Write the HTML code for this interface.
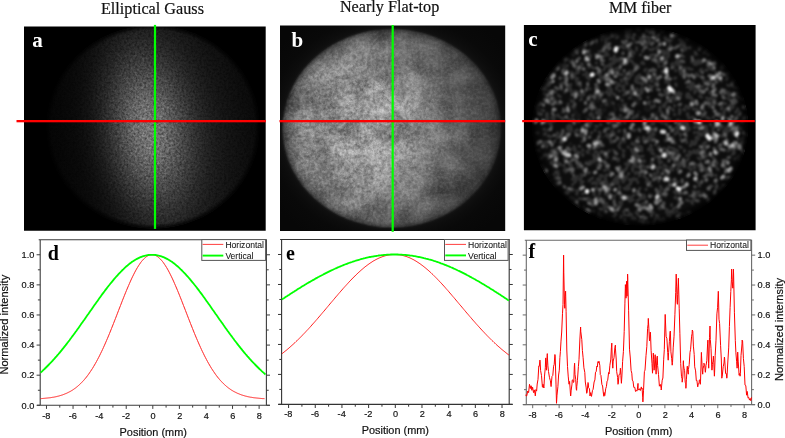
<!DOCTYPE html>
<html lang="en"><head><meta charset="utf-8"><title>Beam profiles</title>
<style>html,body{margin:0;padding:0;background:#fff;}body{width:785px;height:438px;overflow:hidden;}svg{display:block;}.t{font-family:"Liberation Serif", "Times New Roman", serif;font-size:17px;fill:#111;stroke:#111;stroke-width:0.2px;}.lab{font-family:"Liberation Serif", "Times New Roman", serif;font-weight:bold;font-size:21px;}.tk{font-family:"Liberation Sans", Arial, sans-serif;font-size:9.9px;fill:#111;stroke:#111;stroke-width:0.18px;}.ax{font-family:"Liberation Sans", Arial, sans-serif;font-size:11px;fill:#111;stroke:#111;stroke-width:0.2px;}.lg{font-family:"Liberation Sans", Arial, sans-serif;font-size:8.8px;fill:#111;stroke:#111;stroke-width:0.06px;}</style></head><body>
<svg width="785" height="438" viewBox="0 0 785 438">
<defs>
<radialGradient id="ga" gradientUnits="userSpaceOnUse" cx="0" cy="0" r="170" gradientTransform="translate(168 133) rotate(-8) scale(1 1.9)"><stop offset="0.0000" stop-color="rgb(40,40,40)"/><stop offset="0.0417" stop-color="rgb(40,40,40)"/><stop offset="0.0833" stop-color="rgb(39,39,39)"/><stop offset="0.1250" stop-color="rgb(37,37,37)"/><stop offset="0.1667" stop-color="rgb(35,35,35)"/><stop offset="0.2083" stop-color="rgb(32,32,32)"/><stop offset="0.2500" stop-color="rgb(29,29,29)"/><stop offset="0.2917" stop-color="rgb(26,26,26)"/><stop offset="0.3333" stop-color="rgb(23,23,23)"/><stop offset="0.3750" stop-color="rgb(20,20,20)"/><stop offset="0.4167" stop-color="rgb(17,17,17)"/><stop offset="0.4583" stop-color="rgb(14,14,14)"/><stop offset="0.5000" stop-color="rgb(12,12,12)"/><stop offset="0.5417" stop-color="rgb(10,10,10)"/><stop offset="0.5833" stop-color="rgb(9,9,9)"/><stop offset="0.6250" stop-color="rgb(7,7,7)"/><stop offset="0.6667" stop-color="rgb(6,6,6)"/><stop offset="0.7083" stop-color="rgb(5,5,5)"/><stop offset="0.7500" stop-color="rgb(5,5,5)"/><stop offset="0.7917" stop-color="rgb(4,4,4)"/><stop offset="0.8333" stop-color="rgb(4,4,4)"/><stop offset="0.8750" stop-color="rgb(4,4,4)"/><stop offset="0.9167" stop-color="rgb(4,4,4)"/><stop offset="0.9583" stop-color="rgb(4,4,4)"/><stop offset="1.0000" stop-color="rgb(3,3,3)"/></radialGradient>
<radialGradient id="ga2" gradientUnits="userSpaceOnUse" cx="0" cy="0" r="80" gradientTransform="translate(149 131) rotate(-8) scale(1 1.95)"><stop offset="0.0000" stop-color="#fff" stop-opacity="0.4144"/><stop offset="0.0417" stop-color="#fff" stop-opacity="0.4110"/><stop offset="0.0833" stop-color="#fff" stop-opacity="0.4010"/><stop offset="0.1250" stop-color="#fff" stop-opacity="0.3849"/><stop offset="0.1667" stop-color="#fff" stop-opacity="0.3633"/><stop offset="0.2083" stop-color="#fff" stop-opacity="0.3374"/><stop offset="0.2500" stop-color="#fff" stop-opacity="0.3083"/><stop offset="0.2917" stop-color="#fff" stop-opacity="0.2770"/><stop offset="0.3333" stop-color="#fff" stop-opacity="0.2449"/><stop offset="0.3750" stop-color="#fff" stop-opacity="0.2130"/><stop offset="0.4167" stop-color="#fff" stop-opacity="0.1822"/><stop offset="0.4583" stop-color="#fff" stop-opacity="0.1533"/><stop offset="0.5000" stop-color="#fff" stop-opacity="0.1269"/><stop offset="0.5417" stop-color="#fff" stop-opacity="0.1033"/><stop offset="0.5833" stop-color="#fff" stop-opacity="0.0828"/><stop offset="0.6250" stop-color="#fff" stop-opacity="0.0652"/><stop offset="0.6667" stop-color="#fff" stop-opacity="0.0505"/><stop offset="0.7083" stop-color="#fff" stop-opacity="0.0385"/><stop offset="0.7500" stop-color="#fff" stop-opacity="0.0289"/><stop offset="0.7917" stop-color="#fff" stop-opacity="0.0213"/><stop offset="0.8333" stop-color="#fff" stop-opacity="0.0155"/><stop offset="0.8750" stop-color="#fff" stop-opacity="0.0111"/><stop offset="0.9167" stop-color="#fff" stop-opacity="0.0078"/><stop offset="0.9583" stop-color="#fff" stop-opacity="0.0054"/><stop offset="1.0000" stop-color="#fff" stop-opacity="0.0036"/></radialGradient>
<radialGradient id="apa" gradientUnits="userSpaceOnUse" cx="0" cy="0" r="1" gradientTransform="translate(153 127) scale(107 102)"><stop offset="0" stop-color="#000" stop-opacity="0"/><stop offset="0.95" stop-color="#000" stop-opacity="0"/><stop offset="1" stop-color="#000" stop-opacity="1"/></radialGradient>
<radialGradient id="gb" gradientUnits="userSpaceOnUse" cx="0" cy="0" r="200" gradientTransform="translate(365 128) scale(1 1.12)"><stop offset="0.0000" stop-color="rgb(206,206,206)"/><stop offset="0.0500" stop-color="rgb(204,204,204)"/><stop offset="0.1000" stop-color="rgb(199,199,199)"/><stop offset="0.1500" stop-color="rgb(191,191,191)"/><stop offset="0.2000" stop-color="rgb(182,182,182)"/><stop offset="0.2500" stop-color="rgb(170,170,170)"/><stop offset="0.3000" stop-color="rgb(158,158,158)"/><stop offset="0.3500" stop-color="rgb(144,144,144)"/><stop offset="0.4000" stop-color="rgb(130,130,130)"/><stop offset="0.4500" stop-color="rgb(116,116,116)"/><stop offset="0.5000" stop-color="rgb(104,104,104)"/><stop offset="0.5500" stop-color="rgb(94,94,94)"/><stop offset="0.6000" stop-color="rgb(84,84,84)"/><stop offset="0.6500" stop-color="rgb(74,74,74)"/><stop offset="0.7000" stop-color="rgb(67,67,67)"/><stop offset="0.7500" stop-color="rgb(61,61,61)"/><stop offset="0.8000" stop-color="rgb(55,55,55)"/><stop offset="0.8500" stop-color="rgb(54,54,54)"/><stop offset="0.9000" stop-color="rgb(53,53,53)"/><stop offset="0.9500" stop-color="rgb(52,52,52)"/><stop offset="1.0000" stop-color="rgb(50,50,50)"/></radialGradient>
<radialGradient id="apb" gradientUnits="userSpaceOnUse" cx="0" cy="0" r="1.3" gradientTransform="translate(391.8 128.3) scale(111 101)"><stop offset="0.0000" stop-color="rgb(12,12,12)" stop-opacity="0.000"/><stop offset="0.6615" stop-color="rgb(12,12,12)" stop-opacity="0.000"/><stop offset="0.7231" stop-color="rgb(12,12,12)" stop-opacity="0.180"/><stop offset="0.7477" stop-color="rgb(13,13,13)" stop-opacity="0.450"/><stop offset="0.7638" stop-color="rgb(15,15,15)" stop-opacity="0.930"/><stop offset="0.7754" stop-color="rgb(15,15,15)" stop-opacity="1.000"/><stop offset="0.8077" stop-color="rgb(12,12,12)" stop-opacity="1.000"/><stop offset="0.8615" stop-color="rgb(9,9,9)" stop-opacity="1.000"/><stop offset="1.0000" stop-color="rgb(7,7,7)" stop-opacity="1.000"/></radialGradient>
<radialGradient id="apc" gradientUnits="userSpaceOnUse" cx="0" cy="0" r="1" gradientTransform="translate(640 126.5) scale(109 100)"><stop offset="0" stop-color="#000" stop-opacity="0"/><stop offset="0.9" stop-color="#000" stop-opacity="0"/><stop offset="1" stop-color="#000" stop-opacity="1"/></radialGradient>
<filter id="nz" x="0" y="0" width="100%" height="100%" color-interpolation-filters="sRGB"><feTurbulence type="fractalNoise" baseFrequency="0.45" numOctaves="2" seed="3" result="t"/><feColorMatrix in="t" type="matrix" values="0 0 0 0 0  0 0 0 0 0  0 0 0 0 0  1.1 0 0 0 -0.4"/></filter>
<filter id="nzw" x="0" y="0" width="100%" height="100%" color-interpolation-filters="sRGB"><feTurbulence type="fractalNoise" baseFrequency="0.34" numOctaves="2" seed="11" result="t"/><feColorMatrix in="t" type="matrix" values="0 0 0 0 1  0 0 0 0 1  0 0 0 0 1  0.55 0 0 0 -0.2"/></filter>
<filter id="spk" x="0" y="0" width="100%" height="100%" color-interpolation-filters="sRGB"><feTurbulence type="fractalNoise" baseFrequency="0.4" numOctaves="2" seed="21" result="t"/><feColorMatrix in="t" type="matrix" values="0 0 0 0 1  0 0 0 0 1  0 0 0 0 1  4 0 0 0 -2" result="m"/><feComposite in="SourceGraphic" in2="m" operator="in"/></filter>
<filter id="cloud" x="0" y="0" width="100%" height="100%" color-interpolation-filters="sRGB"><feTurbulence type="fractalNoise" baseFrequency="0.035" numOctaves="2" seed="8" result="t"/><feColorMatrix in="t" type="matrix" values="0 0 0 0 0  0 0 0 0 0  0 0 0 0 0  0.9 0 0 0 -0.33"/></filter>
<radialGradient id="mkb" gradientUnits="userSpaceOnUse" cx="355" cy="130" r="150"><stop offset="0" stop-color="#fff"/><stop offset="0.35" stop-color="#e0e0e0"/><stop offset="0.7" stop-color="#707070"/><stop offset="1" stop-color="#404040"/></radialGradient>
<mask id="mb" maskUnits="userSpaceOnUse" x="280" y="25" width="226" height="207"><rect x="280" y="25" width="226" height="207" fill="url(#mkb)"/></mask>
<filter id="mot" x="0" y="0" width="100%" height="100%" color-interpolation-filters="sRGB"><feTurbulence type="fractalNoise" baseFrequency="0.2" numOctaves="3" seed="5" result="t"/><feColorMatrix in="t" type="matrix" values="0 0 0 0 0  0 0 0 0 0  0 0 0 0 0  0.65 0 0 0 -0.21"/></filter>
<filter id="blur1" x="-5%" y="-5%" width="110%" height="110%"><feGaussianBlur stdDeviation="1.25"/></filter>
<clipPath id="ca"><rect x="24" y="26" width="242" height="205"/></clipPath>
<clipPath id="cb"><rect x="280" y="25" width="226" height="206"/></clipPath>
<clipPath id="cc"><rect x="523" y="24" width="233" height="207"/></clipPath>
<clipPath id="ea"><ellipse cx="153" cy="127" rx="106.5" ry="101.5"/></clipPath>
<clipPath id="eb"><ellipse cx="393.5" cy="126" rx="112" ry="103"/></clipPath>
<clipPath id="ec"><ellipse cx="640" cy="126.5" rx="108" ry="99"/></clipPath>
</defs>
<text class="t" x="100.9" y="13.7" textLength="103.1" lengthAdjust="spacingAndGlyphs">Elliptical Gauss</text>
<text class="t" x="339.9" y="11.9" textLength="99.4" lengthAdjust="spacingAndGlyphs">Nearly Flat-top</text>
<text class="t" x="608.9" y="12.6" textLength="62.4" lengthAdjust="spacingAndGlyphs">MM fiber</text>
<g clip-path="url(#ca)">
<rect x="24" y="26" width="242" height="205" fill="#000"/>
<g clip-path="url(#ea)">
<rect x="24" y="26" width="242" height="205" fill="url(#ga)"/>
<rect x="24" y="26" width="242" height="205" fill="url(#ga2)"/>
<rect x="24" y="26" width="242" height="205" filter="url(#nz)" opacity="0.8"/>
<rect x="24" y="26" width="242" height="205" fill="url(#ga2)" filter="url(#spk)" opacity="0.5"/>
<rect x="24" y="26" width="242" height="205" fill="url(#apa)"/>
</g></g>
<g clip-path="url(#cb)">
<rect x="280" y="25" width="226" height="207" fill="url(#gb)"/>
<rect x="280" y="25" width="226" height="207" filter="url(#cloud)"/>
<g mask="url(#mb)">
<rect x="280" y="25" width="226" height="207" filter="url(#mot)"/>
<rect x="280" y="25" width="226" height="207" filter="url(#nzw)"/>
<rect x="280" y="25" width="226" height="207" filter="url(#nz)" opacity="0.35"/>
</g>
<rect x="280" y="25" width="226" height="207" fill="url(#apb)"/>
</g>
<g clip-path="url(#cc)">
<rect x="523" y="24" width="233" height="207" fill="#000"/>
<g clip-path="url(#ec)">
<ellipse cx="640" cy="126.5" rx="108" ry="99" fill="#0d0d0d"/>
<g filter="url(#blur1)">
<path d="M608.4 99.0l-0.2 0.3M592.0 121.7l0.2 2.9M615.5 109.4l-0.5 0.7M598.2 97.3l0.8 1.3M610.8 96.3l0.6 0.8M632.4 98.2l-0.5 0.5M568.6 112.6l-1.6 2.5M650.4 107.4l-0.8 2.7M637.5 117.4l-2.1 1.0M570.6 143.3l-0.6 0.8M638.5 98.8l-1.4 1.3M578.6 115.1l-0.4 0.7M592.0 101.7l1.2 1.3M620.8 96.9l0.3 0.5M589.3 153.0l1.8 0.6M653.1 113.5l-1.0 0.6M638.7 102.3l-0.7 1.1M598.4 154.5l0.3 1.3M611.2 101.2l-0.4 1.6M620.1 108.1l0.5 2.0M618.9 104.9l-0.6 0.1M613.7 111.5l0.1 1.6M650.9 108.8l-1.5 0.3M603.3 136.5l-1.0 0.8M593.8 139.9l0.0 1.4M668.9 99.8l-0.4 0.2M607.2 154.7l-0.1 0.1M646.5 106.1l-0.2 0.2M572.8 109.1l-0.0 0.9M649.9 119.4l-1.0 0.8M594.8 104.6l0.2 2.2M588.3 161.8l0.3 2.6M574.1 98.3l0.3 0.9M661.7 104.3l0.8 1.3M656.6 113.1l-0.7 2.4M574.1 110.7l2.2 2.0M595.7 146.6l-0.9 1.2M638.1 113.5l-0.9 1.3M603.3 152.3l-2.1 0.7M575.0 151.9l2.5 0.2M577.5 151.1l0.4 0.2M614.1 106.6l-0.1 0.1M580.7 146.4l1.3 1.3M609.7 113.9l2.8 0.9M596.1 163.9l0.0 0.0M595.3 113.0l0.4 0.1M597.4 99.9l1.0 1.7M572.7 105.1l-0.5 1.6M579.5 119.1l-0.4 1.4M611.7 142.5l-0.7 0.9M575.5 113.7l-1.1 0.9M606.0 117.6l-0.2 0.0M605.3 109.4l-0.8 0.2M617.7 118.2l-0.9 2.8M638.9 111.7l0.6 0.8M578.7 161.9l-0.8 0.2M668.6 110.3l-0.9 0.9M609.3 105.3l-0.4 0.3M627.7 109.7l2.2 1.2M612.2 101.5l-2.5 1.0M614.1 154.7l1.7 1.2M586.6 117.5l0.0 0.0M658.5 99.2l3.0 0.2M596.9 163.9l2.8 0.0M608.6 128.7l-2.8 0.9M613.0 149.8l-2.4 0.3M604.1 130.8l1.2 1.1M579.6 115.1l-2.0 1.9M654.4 101.0l0.3 0.5M602.6 109.7l1.3 1.4M619.5 107.4l0.6 2.6M604.3 164.3l1.1 2.1M587.7 109.0l-1.0 0.8M588.9 148.9l1.3 1.0M647.6 103.2l-0.3 0.1M611.9 160.0l0.3 0.1M596.1 100.0l-1.2 0.7M654.7 103.7l0.1 0.6M605.9 152.9l-2.3 1.7M593.3 106.4l-2.2 0.7M664.0 107.3l0.6 0.5M594.6 155.7l-0.7 1.9M601.0 109.0l-1.5 0.1M577.4 120.9l0.3 0.3M586.0 162.0l-0.3 1.6M645.1 108.9l2.4 1.7M590.8 112.5l-1.7 1.3M603.4 104.7l-2.7 0.9M561.8 112.5l-0.4 0.1M635.3 99.9l-0.2 0.3M659.0 98.7l0.1 0.4M571.0 98.8l-1.1 0.8M671.8 101.3l1.9 1.8" stroke="#fff" stroke-opacity="0.05" stroke-width="3.0" stroke-linecap="round" fill="none"/>
<path d="M634.4 158.2l0.0 0.0M612.4 81.1l-1.0 1.5M681.1 93.7l-0.0 0.0M642.0 44.3l-0.3 0.1M567.7 190.0l0.5 1.7M581.7 99.0l-1.2 0.8M699.8 46.6l1.8 1.1M610.1 64.0l-0.0 0.0M589.0 180.9l0.0 0.0M538.8 150.4l-1.5 0.0M703.2 193.2l1.2 1.0M635.0 152.0l-2.6 0.4M565.7 84.6l1.8 2.2M643.3 165.9l0.7 0.5M586.1 163.3l2.4 1.1M622.5 74.5l-1.7 0.1M667.4 210.9l-0.9 0.9M659.5 207.1l-0.3 1.0M611.1 173.9l2.1 0.1M647.7 184.6l1.0 0.3M598.7 213.7l-0.2 1.9M557.4 133.4l0.2 0.7M619.5 91.0l0.2 0.1M598.7 165.9l-1.3 2.5M637.3 115.2l-0.5 0.9M582.4 91.8l1.1 0.0M591.5 66.5l2.1 1.8M715.4 76.2l-2.2 1.1M580.1 134.1l0.7 1.9M651.9 162.8l-0.6 0.7M640.0 98.5l0.6 0.3M600.6 51.3l-1.6 0.9M702.6 108.9l0.8 0.9M613.5 103.3l-0.4 0.3M575.1 77.2l-0.0 0.2M710.7 98.1l0.2 0.3M567.6 58.8l0.3 0.5M570.5 88.7l-0.1 0.3M680.7 133.8l-0.2 1.9M706.2 127.6l0.2 1.9M733.5 124.8l-1.6 2.4M680.1 111.8l-0.8 2.1M554.9 163.7l-2.9 0.3M609.7 85.9l-0.6 1.9M636.1 172.9l-0.7 0.7M614.0 199.3l0.0 0.6M667.4 133.7l0.9 0.8M664.7 51.5l-2.2 0.3M568.0 136.2l-0.3 1.1M631.2 60.8l0.8 0.6M674.7 105.8l-0.1 0.2M678.2 60.5l1.6 2.0M581.3 65.4l-0.7 1.6M635.3 218.8l-1.2 0.2M645.7 172.0l-0.9 1.6M687.2 97.4l2.7 0.2M703.8 104.4l-0.4 0.1M613.5 124.5l-0.4 0.1M580.2 198.9l-1.5 0.3M610.8 63.9l-1.2 1.1M704.1 78.4l-0.3 0.1M665.8 63.3l-1.7 0.9M625.9 30.3l0.5 1.1M644.8 138.9l-1.6 0.5M705.1 132.1l-0.7 0.0M619.6 186.7l-0.2 2.3M679.0 200.7l0.4 0.8M569.0 192.2l-0.7 0.0M618.6 158.8l-0.5 2.1M695.3 191.6l1.4 1.8M550.7 124.5l0.9 1.4M648.5 132.5l-0.9 0.3M721.8 89.3l0.9 0.2M735.0 158.9l0.3 0.2M701.4 113.9l0.1 0.1M550.7 122.3l-1.5 0.3M678.2 120.0l-1.8 2.4M716.0 162.3l1.2 0.7M667.3 91.9l-0.8 1.3M625.5 104.7l-2.7 0.3M663.9 165.4l2.6 1.3M557.7 66.2l-0.5 0.2M547.6 79.4l1.5 1.6M723.3 113.6l0.8 2.7M553.3 81.0l-0.7 0.3M679.5 199.5l0.7 2.0M628.0 164.2l-0.8 0.5M616.3 88.9l0.3 0.2M608.2 88.3l1.2 0.4M566.5 110.8l2.5 0.6M657.6 156.3l-1.6 0.8M700.0 92.3l1.1 1.0M666.4 60.3l-1.2 0.5M579.2 146.0l0.1 0.5M680.2 95.3l0.0 2.0M703.5 77.6l-0.3 1.3M667.9 117.8l-0.0 0.0M670.6 167.7l-0.2 1.6M561.9 65.4l2.7 0.5M557.2 103.2l1.3 0.1M553.0 160.6l1.1 1.3M636.6 49.9l0.0 0.0M582.8 126.8l-0.2 0.1M643.2 156.1l0.0 0.0M628.2 147.0l-0.2 0.2M695.9 61.2l-1.0 2.4M665.2 61.8l0.7 1.6M552.9 117.4l-1.1 0.6M622.2 179.4l0.8 0.3M617.0 86.4l-0.4 0.0M682.1 71.9l-1.6 1.7M658.3 50.7l1.6 0.6M635.7 161.9l0.7 1.1M656.9 176.8l-0.1 0.3M630.7 183.5l-1.2 1.3M624.0 170.5l-0.2 0.9M631.6 88.0l-0.6 1.7M610.6 58.5l-0.4 0.9M724.2 111.8l0.2 0.2M578.4 47.4l-0.8 1.5M624.6 135.0l1.4 0.6M623.2 154.3l0.5 0.5M652.9 86.4l-2.0 0.9M619.4 191.8l-2.2 1.8M556.7 179.0l0.3 1.0M549.6 129.6l-1.9 0.6M721.7 188.2l-1.8 1.0M623.6 140.5l0.7 1.3M630.5 30.0l-1.5 0.4M690.7 103.0l-0.2 2.4M610.2 94.1l-1.5 0.9M653.0 37.7l1.4 1.2M564.7 91.8l-0.1 0.4M620.8 169.5l-1.2 2.4M668.4 186.9l0.4 1.6M615.8 126.2l-2.6 1.5M685.8 132.8l-1.4 1.2M677.2 98.1l-1.8 1.9M594.3 159.0l0.4 0.8M590.7 95.6l-0.3 1.5M605.5 193.9l1.3 0.3M600.0 175.6l2.6 0.5M629.3 197.4l-2.1 0.7M541.8 87.8l1.8 1.6M587.4 99.3l-0.1 0.1M743.6 137.7l-0.1 2.0M558.5 148.0l-1.2 0.6M589.7 105.1l0.1 2.1M667.4 138.8l-1.3 0.8M665.5 195.4l-0.2 0.6M567.9 104.1l0.4 0.2M596.1 197.0l0.1 0.8M642.1 156.3l-0.0 0.0M551.5 73.4l-2.6 0.3M684.1 214.5l1.5 1.6M614.6 179.3l2.4 0.4M545.4 133.5l-0.9 0.8M586.6 58.4l-1.5 1.4M643.6 137.1l1.2 1.9M588.4 119.6l0.8 0.3M664.8 154.4l0.7 0.4M712.8 131.4l0.2 1.3M734.5 142.1l1.5 0.7M603.4 77.8l-0.4 1.9M677.3 93.7l-2.3 0.7M701.8 166.8l1.6 0.7M679.6 57.0l-2.9 0.7M685.1 68.0l-0.8 0.4M646.5 189.2l-0.7 0.2M736.2 111.6l-0.5 0.6M591.8 113.6l-1.7 2.0M675.5 35.8l-2.2 2.0M654.0 77.4l0.2 0.6M665.8 39.8l2.8 0.7M551.7 94.4l-1.5 2.4M611.3 70.4l0.9 0.8M607.8 66.0l-2.8 0.6M695.7 196.3l-1.5 1.6M728.9 99.3l1.4 1.0M696.6 62.3l-0.5 2.4M582.3 134.5l-0.4 0.6M667.9 114.8l-0.9 1.1M697.3 181.8l0.6 0.5M563.5 68.8l2.5 1.4M695.4 127.3l-1.4 0.2M724.1 141.5l-0.8 0.7M632.9 94.1l-1.3 0.4M643.8 128.0l1.9 0.9M574.8 91.2l2.7 0.7M688.0 212.3l-0.4 1.2M567.7 72.3l-0.7 0.4M679.4 146.4l2.0 1.1M662.4 207.4l-2.3 1.1M677.1 211.7l-0.4 0.2M593.3 116.3l0.3 2.7M671.3 211.5l0.9 0.1M613.8 60.8l0.3 2.6M723.2 177.7l-0.6 0.1M637.4 77.8l-1.4 0.1M688.9 68.1l-0.1 1.1M615.9 72.2l0.0 0.4M591.3 102.3l1.4 0.8M681.3 65.9l-0.7 0.5M564.2 165.3l-0.5 0.4M574.2 74.0l-1.2 1.5M610.8 67.3l1.0 0.8M587.8 121.4l2.8 1.2M640.7 196.7l0.7 1.6M588.5 60.4l0.8 0.1M544.5 144.7l-0.2 1.2M702.1 146.2l-0.5 0.6M544.2 142.2l0.1 0.7M699.2 191.8l-2.2 0.8M600.9 92.9l2.2 0.2M622.7 46.6l1.3 1.5M586.8 75.1l0.7 2.2M721.4 127.3l0.1 0.2M608.5 168.2l-1.0 1.2M573.2 148.4l1.7 1.9M729.3 148.4l-1.0 2.5M655.1 83.2l1.0 1.5M690.6 169.8l0.2 0.5M608.3 196.0l1.8 1.3M686.6 38.8l1.3 0.7M541.3 158.2l-0.7 0.3M562.5 142.4l-1.9 0.3M718.9 147.4l1.1 1.1M576.6 159.5l-1.7 0.4M690.1 47.3l-0.6 0.5M680.5 165.0l0.2 0.2M558.3 95.3l2.1 1.6M572.9 198.3l-0.6 1.5M570.9 84.5l-1.2 2.0M554.8 76.8l-0.3 0.1M646.5 36.9l-1.1 0.7M587.6 63.8l-0.0 0.1M629.6 55.2l2.7 1.3M686.1 47.5l-0.5 2.2M628.8 173.4l-0.4 0.7M560.6 164.2l-0.2 0.6M576.4 68.7l0.3 0.9M656.1 62.1l2.0 1.4M740.1 155.7l-2.3 1.4M600.8 189.9l-0.4 1.0M662.8 113.4l-0.2 0.7M628.8 197.0l2.8 0.8M596.7 41.4l-0.4 0.9M670.3 180.8l-1.6 0.3M584.0 93.4l-0.7 1.6M704.2 103.6l-0.1 0.5M600.8 94.6l-0.7 2.7M691.1 82.6l-0.7 0.3M567.4 65.5l-2.6 0.2M720.7 79.9l0.5 0.9M601.8 209.5l-0.6 0.4M634.0 164.2l1.4 1.3M623.6 155.7l-0.4 0.4M672.6 66.5l1.8 0.3M676.6 132.0l1.1 0.6M577.3 176.3l-0.9 2.6M589.6 172.7l-1.5 0.1M648.5 208.2l-1.0 1.8M591.8 132.6l-0.6 0.5M738.9 132.9l-2.5 0.4M583.9 45.8l-2.1 0.3M717.0 153.1l0.0 0.1M695.5 53.2l1.0 1.0M667.6 116.2l-2.4 0.0M565.4 159.2l0.2 0.3M649.2 103.6l-0.1 0.2M658.4 195.7l-0.3 0.4M599.1 91.9l-1.5 0.7M580.5 166.9l-2.7 0.3M679.6 162.8l1.2 2.1M689.4 167.0l-1.1 0.7M699.7 168.1l0.7 2.8M577.9 130.1l-2.0 0.3M600.8 59.6l0.4 0.9M614.1 150.9l0.3 0.1M692.2 117.2l2.2 1.3M689.3 151.6l1.5 0.9M554.2 149.9l-1.4 1.4M653.4 34.6l1.2 0.4M671.8 109.1l1.8 1.0M593.8 106.8l-0.0 0.6M568.8 188.3l-1.7 1.4M570.0 125.2l-2.4 1.5M630.2 49.7l0.6 1.8M653.3 121.9l-1.7 2.3M654.8 101.5l-1.0 0.1M663.9 194.2l0.6 0.9M733.9 104.0l-1.8 1.4M693.6 165.1l0.9 0.9M601.9 151.3l-1.0 0.5M554.1 120.2l-0.4 0.9M551.0 162.5l0.5 0.8M567.7 118.5l0.0 0.0M598.5 154.5l-1.6 2.4M684.3 42.8l-0.5 1.3M620.6 172.9l-0.1 0.8M697.7 151.6l-2.5 1.1M571.5 164.9l-0.6 1.3M648.7 42.0l-2.1 1.5M607.0 206.9l-2.1 1.3M623.5 156.7l-0.0 0.0M694.6 61.2l-2.8 0.6M666.5 209.5l0.6 0.1M605.1 37.0l0.5 2.9M715.5 139.3l0.7 0.1M690.3 168.2l-0.1 0.3M713.7 86.7l0.8 1.6M609.6 87.7l1.9 2.1M701.6 151.4l0.3 0.0M548.6 100.8l-0.9 0.1M588.1 124.7l-1.7 0.1M547.4 113.5l-1.0 0.6M716.8 113.9l0.0 0.6M577.8 78.7l-1.6 1.8M729.9 109.9l-0.7 1.2M613.6 216.4l0.8 0.2M643.1 79.2l0.5 2.5M579.2 66.5l-1.2 1.6M574.8 49.6l0.9 2.7M733.0 94.8l1.3 0.8M627.0 167.4l-1.7 2.4M601.0 37.0l0.7 2.9M649.6 79.1l1.4 2.3M583.0 175.6l-2.2 1.8M593.7 148.1l-0.3 0.2M589.5 125.4l-0.1 1.3M669.6 211.5l0.5 0.4M632.3 168.3l0.6 2.7M606.6 181.7l-1.6 0.4M705.6 141.9l0.4 0.4M633.8 91.6l-0.1 0.0M680.7 170.6l-0.0 0.1M572.5 60.2l-2.3 1.4M608.8 93.0l1.7 0.6M718.8 145.3l-0.1 0.3M595.1 182.9l-2.9 0.4M559.4 63.7l-1.3 0.6M580.7 134.0l1.2 2.1M678.2 205.7l-2.3 1.8M614.3 56.1l0.2 0.2M661.5 188.2l-0.8 0.9M633.4 63.7l2.1 1.1M649.8 136.0l0.2 0.5M592.7 103.5l-0.2 1.2M602.9 152.3l1.9 0.1M670.0 119.4l-1.1 1.0M581.1 174.6l0.5 0.0M613.7 181.3l1.8 2.1M606.3 54.6l1.9 0.2M588.5 201.3l1.6 2.2M677.0 216.0l2.1 0.9M554.9 178.3l-0.5 0.3M721.9 126.0l0.4 0.5M727.0 73.9l-0.7 1.6M623.7 177.1l0.0 0.1M728.1 73.1l-1.4 1.9M605.6 177.9l-0.4 1.9M548.3 175.6l-1.0 1.5M690.8 144.8l-0.6 1.1M691.8 141.6l1.0 2.7M607.0 77.6l-0.6 0.8M616.2 51.1l-0.7 1.0M671.6 204.6l-0.1 0.8M742.0 121.5l1.1 0.1M623.9 180.6l-0.7 1.5M682.3 40.7l-1.3 2.0M584.5 125.7l2.0 0.7M577.1 192.6l-0.3 1.5M615.5 189.1l-0.0 0.0M660.2 120.5l-1.4 0.6M621.6 100.1l1.0 0.7M726.1 131.0l-2.6 0.1M742.3 145.6l-1.0 0.8M648.7 37.1l0.4 1.7M687.9 113.7l-0.8 0.4M690.7 89.6l-0.0 0.1M644.2 78.0l1.7 0.1M535.1 107.4l2.3 1.5M694.0 100.6l2.5 0.3M662.1 122.9l0.0 0.1M641.8 88.1l0.1 0.1M599.5 157.0l-1.7 0.0M647.9 222.5l0.8 1.2M647.4 179.2l-0.9 2.8M638.4 28.6l0.8 0.5M568.0 87.8l-1.0 0.7M669.0 147.0l-1.2 2.6M543.7 167.8l0.4 0.5M706.8 117.5l2.7 1.2M705.2 102.2l0.4 0.1M672.8 63.8l-1.1 0.6M626.5 33.8l1.9 0.4M733.9 81.2l-1.7 1.5M706.3 126.3l-1.9 0.2M606.2 35.0l-2.3 1.8M547.1 96.4l-1.7 2.2M635.1 156.5l-0.1 1.6M645.1 40.4l0.1 0.0M681.3 164.9l-0.6 1.3M556.4 149.2l-0.6 2.3M695.2 141.0l1.0 0.8M594.2 192.6l-0.2 2.1M629.3 213.3l2.5 1.6M643.2 63.4l0.6 0.3M659.6 58.5l0.3 2.8M709.6 92.7l1.1 0.4M651.2 208.4l0.5 0.6M729.8 105.1l0.0 0.7M698.3 89.0l0.0 0.3M604.9 188.5l-0.0 0.2M618.5 119.0l1.8 0.0M701.7 122.5l-0.4 0.5M652.7 54.8l-2.4 0.8M670.1 213.4l0.3 1.3M570.2 155.5l1.1 1.1M720.5 72.3l0.9 0.2M654.7 116.1l-1.7 1.7M646.5 57.2l-0.9 1.3M711.0 68.8l2.9 0.4M549.7 81.0l-0.6 1.4M707.2 169.8l-1.1 1.1M636.5 172.1l0.3 0.6M611.7 63.6l-1.3 1.8M664.0 65.5l-0.8 0.8M660.5 42.8l-0.5 2.1M545.9 89.7l-2.2 0.5M659.7 110.5l0.1 0.5M604.2 69.5l-0.2 0.4M733.2 142.8l-0.1 2.6M715.3 134.1l-0.0 0.0M574.2 177.6l-1.7 1.7M684.0 129.2l0.0 0.4M582.0 198.9l-0.1 0.3M615.6 34.3l0.2 0.4M599.6 198.5l-1.4 2.0M741.7 149.8l0.8 0.8M567.8 151.4l-0.1 1.9M688.0 115.8l1.1 2.7M600.9 113.8l-1.7 2.2M636.2 212.5l1.8 2.1M559.7 183.0l-0.7 1.0M726.6 133.7l-2.7 0.6M736.4 116.5l1.0 1.3M573.6 101.3l-2.2 0.0M629.8 136.4l-1.5 0.6M567.3 79.4l-0.2 0.4M628.6 91.7l-1.5 0.0M657.4 197.0l-0.1 0.1M629.5 34.0l0.0 0.0M573.2 119.2l0.4 2.9M623.2 90.0l1.3 1.0M549.0 90.8l2.3 0.8M608.7 185.1l-1.7 1.8M624.7 221.8l1.2 2.4M677.2 150.5l0.5 0.3M642.8 62.1l-1.1 1.0M590.0 88.9l0.0 0.0M711.1 82.7l1.3 1.0M620.6 115.4l-0.2 0.2M697.6 150.4l0.8 2.8M630.0 71.1l0.0 0.6M589.2 50.7l-0.4 1.5M581.4 130.7l0.2 0.4M674.7 208.3l-1.4 0.7M697.8 74.9l1.1 0.8M604.0 200.0l-1.3 0.3M643.9 220.1l-0.3 0.5M604.8 170.1l-0.2 0.3M595.9 108.5l-0.1 0.6M692.0 69.4l-0.2 0.0M626.8 223.5l1.7 2.2M715.6 110.9l-0.4 0.9M557.4 157.7l-0.0 1.3M601.2 96.2l-0.8 2.0M745.5 115.9l2.6 1.3M715.5 175.3l0.6 0.3M694.6 132.4l-0.2 0.3M649.7 194.9l-0.3 0.4M667.9 39.0l0.5 2.4M628.8 215.3l-0.7 0.0M665.3 72.8l-0.5 0.9M695.6 143.6l-1.6 0.5M627.3 186.1l-0.9 2.0M670.0 138.0l2.7 0.0M678.8 154.4l-2.4 0.3M703.1 126.0l-0.3 0.2M659.2 176.8l0.4 1.3M586.0 60.5l-0.0 0.4M638.7 67.5l0.0 0.0M666.9 124.8l-0.1 0.2M686.4 122.2l1.3 2.5M634.3 129.8l0.7 0.2M631.3 181.4l-0.7 0.8M687.6 155.1l-0.9 0.4M665.1 117.7l0.4 0.8M537.8 132.9l-1.5 0.0M610.6 91.8l1.3 0.8M556.5 172.8l2.0 1.7M614.6 94.2l-0.0 0.9M640.5 38.6l1.9 1.0M659.0 167.1l-2.6 1.3M547.5 115.8l-0.4 0.3M637.7 155.6l2.3 1.5M675.6 197.2l-0.7 0.4M571.8 167.5l0.5 1.3M619.8 130.7l-1.3 0.6M614.9 182.6l-0.7 1.3M654.2 54.9l0.8 0.2M632.0 129.9l1.5 0.5M692.4 87.6l-1.6 0.6M599.2 164.5l-0.3 0.5M592.7 39.9l0.8 1.2M616.5 176.6l1.8 2.4M599.5 145.8l-0.4 1.1M590.0 55.3l0.3 1.9M640.8 197.1l-1.0 1.0M659.3 66.5l-0.5 0.2M665.1 37.1l0.5 1.5M600.8 72.6l-1.3 2.0M683.1 127.9l-0.2 1.8M727.2 177.2l-0.5 2.2M590.4 55.3l-1.8 1.1M584.6 209.1l-0.3 1.4M732.7 86.2l2.3 1.2M591.2 201.2l1.1 0.2M685.6 129.8l1.0 1.2M608.3 134.5l-2.2 0.9M598.0 68.6l-0.1 0.3M624.8 139.0l-1.0 1.8M671.1 38.7l-0.9 0.7M573.0 189.5l-1.6 0.6M685.4 185.2l-2.1 2.1M613.2 132.0l1.3 2.5M684.9 109.5l-0.0 0.5M621.0 175.8l-1.2 1.0M631.8 149.1l-0.6 0.5M694.9 178.2l0.9 2.2M676.9 164.3l0.3 0.3M677.3 126.9l1.1 2.6M619.8 205.1l0.4 0.1M686.8 160.2l-1.9 1.4M621.6 108.9l-0.1 1.4M583.2 193.4l-0.3 0.2M651.2 81.0l0.1 0.3M711.3 103.2l-1.4 2.4M636.9 166.5l0.0 0.3M708.7 188.9l1.1 0.5M678.6 92.6l2.2 1.7M632.3 143.0l-0.3 1.1M734.3 145.9l0.4 1.3M658.9 160.2l0.0 0.7M695.4 52.0l-0.0 1.8M643.5 117.4l-0.9 0.3M687.2 128.1l-1.1 0.1M607.4 184.6l1.1 1.4M666.9 101.2l0.9 0.1M714.0 127.5l-0.9 0.8M676.7 181.8l1.0 0.4M651.8 211.2l1.4 1.4M597.9 178.7l-0.5 0.8M684.6 150.2l-0.2 1.2M688.3 159.0l0.0 0.0M744.6 142.1l-0.9 1.2M648.2 97.1l-0.3 0.6M736.9 87.7l0.6 0.3M649.7 49.4l0.5 0.3M710.4 124.0l0.3 1.0M702.7 116.2l-0.9 0.2M701.9 158.0l2.5 0.2M601.2 215.9l-2.0 1.8M613.9 195.9l0.5 0.4M678.3 216.5l1.6 0.8M673.7 140.0l-1.7 1.4M597.1 73.0l-0.1 0.8M646.0 69.2l-1.3 1.2M689.4 164.7l0.8 0.2M652.3 149.9l0.3 0.2M640.4 94.0l-0.5 0.4M608.0 136.8l0.2 0.2M672.5 169.9l0.1 0.0M608.8 151.3l-2.0 1.8M595.1 130.1l-0.1 0.3M556.2 165.7l-2.1 0.5M672.1 89.8l-0.1 0.7M669.7 154.0l0.5 2.8M740.7 128.8l0.3 0.1M623.1 195.4l-0.0 1.8M662.4 61.1l-0.1 0.2M579.8 179.8l0.8 0.4M683.8 109.3l-0.1 0.2M687.3 93.8l-0.6 1.6M570.7 90.1l0.2 1.4M660.0 193.2l0.9 2.6M623.7 94.9l-0.0 0.1M625.4 62.9l-1.0 0.4M685.6 73.8l0.5 0.7M659.6 191.8l0.6 1.9M685.8 106.1l0.0 0.3M678.0 168.3l-0.6 1.3M666.4 175.2l1.7 0.2M635.9 81.7l2.3 1.0M619.4 68.2l-0.0 1.2M698.2 150.3l-1.5 2.2M688.6 81.2l0.6 0.5M571.5 72.2l0.8 2.2M646.1 79.5l-2.8 0.0M702.5 104.7l1.2 0.7M569.2 133.6l-2.5 0.1M541.3 110.0l2.5 0.6M543.6 143.7l-1.3 1.0M583.8 207.0l-1.0 1.1M728.2 92.3l0.2 0.2M634.5 159.7l2.1 1.0M544.1 129.2l0.2 0.3M566.8 69.5l-0.7 0.2M653.8 115.2l-0.6 1.6M624.8 122.2l-0.2 0.6M587.1 172.5l0.6 0.2M570.3 119.9l-0.1 0.0M673.4 166.0l-0.5 2.1M634.0 89.6l-1.9 2.3M636.9 65.4l0.7 0.9M683.2 69.2l-0.4 0.1M649.2 137.5l1.3 0.6M576.8 155.6l0.4 0.0M554.1 183.3l-0.5 0.2M629.2 179.5l2.5 0.3M676.3 61.5l-0.2 1.9M665.7 154.6l0.1 2.4M640.4 77.0l-1.2 1.6M587.0 151.4l0.6 1.2M625.1 210.0l-1.4 2.1M662.4 71.1l-0.2 1.0M655.6 144.1l0.1 0.9M602.7 77.0l-2.2 0.5M592.7 178.0l-2.3 1.4M623.5 85.5l0.2 2.9M734.6 148.7l0.1 0.0M712.4 157.1l1.6 1.1M574.1 202.8l-0.5 1.5M719.4 122.6l0.0 0.5M606.6 52.3l-1.2 2.6M701.4 69.3l-1.4 1.8M569.8 85.4l-0.0 0.0M640.5 90.8l-0.1 1.8M656.5 215.3l1.4 0.8M590.1 161.9l-0.0 0.0M638.7 138.0l-1.2 0.3M669.4 178.1l-0.9 0.5M636.5 65.6l1.5 0.2M594.8 203.5l0.1 0.1M667.7 49.2l1.4 0.5M702.7 86.5l-0.6 0.4M617.9 59.3l0.3 0.2M661.6 161.8l-0.4 0.6M577.3 84.1l1.6 0.4M585.7 135.5l-0.8 0.7M637.7 149.4l1.6 0.9M702.2 169.8l-0.3 0.1M624.1 188.5l2.7 0.7M637.3 89.0l-0.4 1.8M697.2 62.7l0.1 0.2M666.9 80.2l-1.0 1.9M635.5 42.2l0.8 0.3M710.0 80.8l-2.6 0.9M682.7 202.1l0.1 0.1M538.0 108.0l-0.0 0.2M655.5 60.9l-0.2 0.6M595.6 54.5l0.0 0.3M676.9 198.2l2.8 0.1M654.6 106.1l-1.0 0.6M606.8 203.6l0.0 0.3M551.4 74.3l-0.2 0.1M711.3 185.9l0.8 0.3M737.8 108.8l1.0 2.0M656.8 117.1l-0.0 0.1M615.4 59.4l1.7 1.7M650.7 148.0l-1.6 0.6M630.1 52.0l-0.9 1.3M616.3 205.8l-1.3 0.9M653.2 129.4l0.8 0.7M594.5 182.5l2.4 1.3M648.6 149.7l1.1 0.2M672.0 147.9l1.2 1.3M722.6 103.0l2.9 0.6M589.0 76.1l0.8 0.5M665.1 58.4l0.6 0.1M722.0 106.7l-0.7 2.4M563.2 185.9l1.2 1.3M624.7 215.0l0.3 0.0M666.2 94.1l0.1 0.2M668.0 215.0l2.2 1.3M611.7 82.9l-1.7 0.6M595.8 158.7l-0.6 1.7M694.9 90.0l0.1 0.1M739.3 159.2l-0.1 0.3M545.4 168.5l-0.8 0.9M590.1 147.3l-0.9 1.6M572.4 54.8l1.4 0.1M651.6 213.7l-0.1 2.3M581.2 93.6l-0.8 2.0M583.6 74.6l0.0 0.0M545.5 122.7l0.0 0.0M567.4 128.4l0.6 1.3M697.6 126.5l-0.5 0.1M546.5 116.3l0.7 1.8M682.9 76.0l1.3 1.8M623.1 150.5l1.0 0.4M630.1 97.8l-0.9 0.2M554.7 116.0l-1.0 2.5M558.9 163.4l0.6 0.5M601.2 208.9l-1.5 0.1M680.9 188.4l-2.7 0.1M555.2 91.8l0.3 0.2M583.0 154.4l-0.6 0.5M652.6 31.6l-1.0 1.2M629.3 197.9l-1.5 1.4M662.8 31.2l-1.0 0.0M632.7 37.5l0.7 1.6M715.0 99.2l-1.6 0.6M697.3 109.0l-3.0 0.3M725.6 98.2l-1.5 0.1M707.6 88.7l0.2 0.1M599.7 57.0l-2.8 0.2M600.2 179.1l-1.4 1.9M652.0 106.4l0.2 1.0M733.3 150.6l0.2 0.4M675.9 191.6l0.2 1.7M628.0 44.7l-1.1 1.2M696.6 138.0l1.8 1.0M708.3 169.4l-0.0 0.3M639.9 194.9l0.9 0.0M664.0 148.3l2.2 1.5M564.6 58.9l-0.7 0.6M582.5 167.4l0.7 2.0M667.0 89.8l-2.4 0.8M666.5 70.5l-0.7 0.5M592.0 162.6l-1.7 1.3M637.8 182.3l0.1 0.2M662.7 53.3l1.9 1.5M698.1 157.9l2.2 1.4M577.1 190.5l0.9 0.3M620.4 123.8l-3.0 0.2M603.8 56.5l-0.2 0.1M709.7 92.8l2.5 1.5M582.5 127.2l-0.3 2.3M649.2 137.9l-2.4 0.9M558.2 183.2l0.2 0.7M599.2 193.4l0.5 0.6M652.2 80.7l-0.3 0.3M640.2 175.6l-1.0 0.1M603.3 48.3l1.5 0.8M547.7 119.6l-1.3 0.9M658.9 218.7l1.4 1.7M664.7 165.0l-0.2 0.4M688.9 96.2l-2.1 0.6M684.6 44.4l-1.1 2.5M699.4 111.7l-0.3 0.3M674.5 114.4l0.3 0.2M550.3 180.0l0.1 1.2M686.7 182.6l0.7 2.9M564.3 158.1l0.7 1.6M637.7 147.8l-2.2 0.2M557.6 153.7l-1.7 1.1M596.4 91.6l1.3 1.3M620.1 58.4l0.5 2.2M730.3 123.6l-0.2 0.7M722.8 91.5l-1.5 2.0M710.0 140.6l-0.3 0.1M582.0 141.3l0.1 0.5M694.3 63.4l-0.1 0.8M646.4 222.7l0.4 0.4M632.1 218.3l2.0 0.1M708.5 100.4l0.2 0.3M572.9 115.1l-0.4 0.7M710.5 66.5l0.7 1.1M686.9 176.4l0.3 0.3M737.7 92.8l-2.9 0.5M649.9 41.8l-1.6 1.4M560.1 101.9l-0.3 1.1M647.0 139.5l2.0 0.8M570.8 129.4l0.5 1.3M583.0 150.2l-0.4 0.1M709.7 60.6l-1.7 0.2M698.0 132.1l0.1 1.2M610.4 139.4l0.7 2.5M537.0 105.0l0.5 2.6M683.5 158.9l0.6 1.2M617.8 36.5l-1.3 1.0M650.0 209.1l-0.8 2.6M647.0 139.7l1.9 0.9M735.5 131.1l1.0 1.1M726.0 127.8l0.1 1.4M646.1 123.1l-1.8 0.7M598.4 159.6l2.4 1.0M667.7 215.3l0.3 0.4M706.3 50.5l-2.2 2.0M716.6 167.7l1.6 1.9M634.2 143.8l0.1 0.2M572.4 189.0l0.9 1.1M651.7 153.0l2.2 1.0M628.7 60.0l0.0 0.2M670.2 45.3l-1.2 2.0M588.9 200.4l-0.3 3.0M647.1 58.5l-0.1 0.0M544.8 83.4l0.3 0.4M575.2 132.4l0.1 0.7M550.1 103.3l1.9 0.8M686.4 126.0l2.2 2.0M583.2 181.7l-2.1 2.1M631.4 200.5l-1.4 0.9M607.7 157.1l-1.7 0.4M608.8 128.1l-0.3 0.2M671.1 39.0l-1.1 2.2M685.4 192.0l1.6 0.9M594.9 160.8l-1.1 0.4M561.4 117.8l1.5 2.1M617.8 181.7l0.3 1.7M699.0 60.6l0.2 2.9M645.6 206.6l-1.0 0.1M661.8 112.5l-0.3 0.5M711.8 91.8l0.5 2.7M596.9 112.7l0.6 0.6M625.8 133.6l-0.7 0.8M707.6 54.0l1.4 0.4M665.7 103.6l-0.9 0.2M576.5 66.1l-0.6 1.9M564.3 169.9l0.1 0.1M541.1 89.1l-0.7 0.2M728.2 93.8l2.5 0.2M554.0 98.4l-0.7 0.4M629.4 188.7l-0.9 0.1M709.5 106.5l0.1 0.0M615.3 214.0l0.3 0.4M572.6 184.5l-0.0 0.2M693.3 191.5l2.3 1.3M704.9 152.8l-0.2 0.4M578.8 71.5l-2.1 1.6M593.9 155.1l-0.1 0.2M693.8 168.1l1.3 0.1M564.8 60.7l-0.4 1.4M699.6 184.7l-0.2 1.3M651.8 124.1l-0.3 0.1M658.0 170.6l-0.4 2.3M662.5 50.8l0.5 2.4M696.1 164.3l-0.5 0.0M732.0 148.5l-1.6 0.8M589.2 210.7l-0.0 0.0M659.6 163.3l0.2 0.1M590.4 161.7l0.9 0.2M596.8 151.7l-1.8 0.1M693.8 101.3l1.2 1.0M693.4 83.4l-1.0 2.6M703.2 143.8l1.6 2.1M703.6 80.0l1.1 2.8M710.1 103.8l0.1 1.1M555.3 185.7l-2.2 0.0M608.1 74.1l0.6 1.2M636.8 179.2l-0.8 0.5M625.7 164.0l0.7 0.2M587.0 108.1l-0.5 1.3M564.7 117.4l-0.2 0.2M596.4 62.9l0.0 0.1M704.9 131.5l0.5 1.1M701.0 133.0l-0.3 2.2M683.9 122.2l-0.6 1.5M660.8 167.4l-1.0 0.2M598.1 197.7l-0.1 0.1M574.3 202.1l-1.8 1.7M557.7 114.9l1.2 1.6M678.7 162.9l0.3 2.6M675.8 83.9l0.4 1.5M656.7 79.5l1.1 2.0M742.2 152.4l1.0 0.7M676.7 127.2l0.9 0.1M570.6 168.3l-0.7 0.5M604.5 202.8l-0.5 2.7M666.9 93.7l0.9 0.2M683.5 192.6l-0.7 0.7M650.8 145.1l0.5 1.3M634.8 145.2l2.4 1.4M653.1 134.5l-0.7 1.5M585.4 130.9l-0.2 1.4M690.5 85.0l-1.4 1.8M660.2 191.6l-0.9 1.4M669.1 50.3l-0.9 0.1M645.0 197.4l-2.4 0.9M640.5 83.0l2.0 1.6M639.9 75.0l-2.2 1.2M599.6 110.3l-0.9 0.7M675.7 78.0l-1.3 0.5M727.9 85.2l1.9 0.4M691.7 195.3l-2.1 0.7M707.1 70.1l-1.5 0.1M643.7 160.5l0.9 0.8M625.7 109.3l-1.6 1.5M625.0 179.9l-2.2 1.0M606.6 103.1l-0.4 1.8M623.2 86.3l-0.5 0.9M640.1 188.3l-0.5 0.0M664.2 219.8l-1.2 1.1M667.0 52.9l1.7 1.0M575.7 181.3l-1.0 0.9M689.2 127.8l0.1 1.8M675.7 94.9l1.5 1.2M657.0 88.7l0.2 1.0M634.0 152.8l-0.1 1.5M595.9 126.2l1.4 0.4M634.3 116.9l-2.1 1.8M690.2 154.3l-1.4 1.4M709.8 68.1l2.4 1.7M599.9 111.8l-1.0 0.3M646.7 80.6l-0.6 2.7M577.4 82.6l-0.2 0.1M734.1 150.6l0.4 2.9M610.0 136.0l-0.7 1.5M632.2 93.2l2.1 0.3M569.4 133.4l-1.0 0.5M576.1 134.7l0.2 0.4M659.2 146.9l-0.9 2.3M639.9 210.2l-1.8 0.1M586.6 72.5l0.1 0.3M601.0 124.5l-0.6 0.0M617.9 98.2l-0.2 0.1M674.4 191.8l1.3 1.0M691.3 97.5l0.8 2.5M693.9 150.6l-0.6 1.9M641.3 149.5l0.4 1.2M650.3 57.1l0.4 0.2M654.2 123.3l-0.8 0.7M579.4 152.7l-2.2 0.7M673.1 35.3l-2.5 0.9M548.4 158.2l0.6 0.1M633.4 165.7l-0.6 2.8M636.7 47.5l-0.3 0.0M565.7 77.6l-1.6 0.2M544.5 155.0l-0.5 0.9M675.6 70.4l0.1 0.3M706.5 98.0l2.5 0.9M624.8 117.6l-1.4 1.1M609.3 70.0l0.7 0.9M642.6 90.8l-0.9 1.7M622.0 201.7l-2.2 0.4M636.7 78.6l-1.2 2.3M722.9 65.1l1.3 0.5M567.4 157.2l-1.4 2.0M652.0 159.6l0.3 2.9M643.1 215.6l0.2 2.8M686.5 142.2l0.5 0.4M640.2 163.3l0.6 0.9M683.4 56.5l0.2 0.2M696.6 177.8l-0.2 2.0M687.0 74.2l0.2 0.5M720.1 135.5l2.4 0.7M616.0 220.7l-0.0 0.1M679.2 39.2l2.7 1.0M606.9 91.7l-0.3 0.8M551.5 150.8l0.8 1.8M722.7 102.6l0.6 0.4M608.1 186.7l0.3 0.1M678.5 216.8l-1.6 1.2M721.6 165.1l0.7 1.2M592.5 190.2l0.4 0.2M556.2 69.7l-2.3 0.5M696.0 73.8l1.0 1.6M696.2 75.9l0.2 0.0M572.8 52.1l-1.0 1.5M714.8 181.3l1.2 1.7M596.0 187.6l2.0 2.1M704.7 168.1l0.3 0.5M566.3 80.9l-0.6 1.5M644.4 169.7l-1.5 2.4M665.6 123.1l-0.0 0.5M559.3 181.9l-2.2 0.4M558.4 164.8l-1.6 2.1M632.2 73.7l-0.2 0.8M664.9 105.3l-1.2 0.8M732.5 154.1l0.0 0.0M639.9 146.1l1.9 1.7M698.1 137.0l-0.5 0.3M691.6 201.6l1.2 2.5M566.4 59.4l-0.1 0.7M679.8 68.0l-0.1 2.7M554.8 72.9l0.2 0.0M600.1 71.1l0.5 0.7M653.9 128.9l2.1 1.6M737.2 96.1l2.3 1.2M712.5 99.0l0.9 2.2M668.4 55.0l-0.3 1.9M549.4 136.3l1.1 0.5M727.9 77.8l-1.2 1.4M560.8 83.7l0.3 2.6M585.6 103.0l0.1 0.1M665.6 93.9l-0.6 0.6M608.9 81.8l1.4 2.1M611.4 113.1l-1.6 1.9M657.5 100.6l2.5 1.2M636.2 154.2l-1.1 0.6M707.7 132.9l-0.1 1.0M644.0 175.4l1.0 1.9M566.5 149.4l1.4 1.4M634.7 67.3l1.2 2.1M667.2 187.3l-0.3 0.3M703.1 108.5l0.6 0.5M608.4 118.9l1.5 1.3M680.7 139.3l1.0 1.9M674.7 149.1l0.2 2.9M554.9 140.8l-0.9 1.4M664.7 154.2l1.1 0.6M610.6 172.1l-0.2 0.3M598.0 86.6l-1.0 0.7M590.3 44.5l-0.2 0.2M563.0 83.0l0.9 0.3M616.6 118.3l-0.4 0.3M705.3 149.6l-1.3 1.0M652.0 133.0l1.9 1.9M663.4 218.8l-0.9 1.2M555.5 100.9l0.6 2.1M612.9 124.2l-0.3 0.3M645.3 70.2l-0.3 0.6M654.8 221.5l-1.4 2.0M637.3 29.0l0.5 0.1M578.8 47.2l0.4 0.2M643.1 161.3l-2.6 0.3M628.8 47.2l-1.1 1.7M672.2 139.6l-0.7 2.6M625.7 81.5l1.4 2.4M600.3 179.4l-1.2 0.3M738.1 126.2l-0.7 2.0M649.7 101.9l-1.4 0.3M618.8 84.0l0.9 1.6M737.3 137.8l1.4 1.3M687.5 86.8l0.0 0.1M633.7 178.3l-0.5 1.5M557.4 132.9l0.7 0.2M611.7 183.1l0.5 0.1M707.0 84.6l1.6 0.4M703.7 176.2l1.3 1.5M548.9 135.7l-0.8 0.2M744.2 117.1l-0.8 0.6M699.6 96.5l2.1 0.6M537.2 110.9l0.4 1.1M699.2 84.5l0.0 0.5M625.5 176.9l1.0 0.1M618.1 75.1l-1.3 0.4M620.4 193.4l-0.5 0.4M557.3 137.3l1.0 0.1M730.9 176.1l1.9 2.2M657.9 48.1l1.0 1.0M573.0 106.6l1.7 0.5M628.6 163.8l0.6 0.6M713.5 116.8l-0.2 0.9M646.8 140.1l-2.6 1.3M707.3 131.4l-0.0 0.5M696.0 137.4l1.1 1.0M599.3 131.9l0.9 1.7M573.1 199.5l0.1 0.0M718.2 152.1l-1.4 1.6M654.0 75.1l1.4 0.8M631.0 161.3l-2.7 0.0M713.6 162.6l0.7 2.3M599.5 71.6l-0.7 0.1M675.0 142.9l0.1 0.1M591.8 211.2l0.3 0.1M612.1 131.6l-0.6 1.9M643.7 49.5l-1.2 1.9M583.7 47.6l-0.5 2.4M665.4 140.2l0.4 0.5M727.4 108.1l-2.2 1.5M640.2 54.8l0.6 0.0M721.5 78.1l-1.1 1.4M724.8 165.4l0.3 3.0M678.4 65.0l1.4 0.7M646.6 202.9l-0.2 0.2M618.0 68.0l-2.4 0.9M589.5 66.5l-0.6 0.7M673.5 212.8l0.2 0.2M629.5 74.1l1.2 1.4M555.5 68.1l-1.1 1.5M638.3 76.9l-0.1 0.5M673.8 128.8l-0.7 1.7M742.2 99.0l2.8 0.7M582.8 154.0l-0.1 1.3M729.2 130.6l-1.5 0.3M543.7 93.2l0.8 1.0M699.4 61.6l2.7 0.9M628.1 108.9l-0.8 0.9M592.1 205.0l0.3 1.0M653.5 48.6l-0.9 1.2M715.9 165.0l-1.2 0.7M547.1 145.9l-0.8 1.1M650.7 118.7l-2.1 1.7M626.2 36.2l2.5 1.3M659.1 34.3l-1.7 2.1M733.3 99.2l-1.2 0.5M552.3 149.8l1.1 0.3M708.2 161.3l1.5 2.6M578.6 206.7l-1.3 1.5M549.9 154.0l-1.4 1.1M659.8 107.3l0.6 1.5M623.0 195.9l-2.3 1.4M644.6 202.9l1.1 2.4M671.4 97.7l2.9 0.4M570.1 197.1l0.1 1.7M629.4 77.8l-2.2 1.9M571.4 127.3l-0.2 0.2M706.4 155.9l-0.7 0.8M621.3 216.3l-0.7 1.9M593.4 211.3l0.4 0.7M542.2 119.4l1.0 1.8M606.8 191.3l2.1 0.8M715.7 72.5l1.9 1.5M615.2 82.1l0.7 0.3M619.8 121.2l0.4 1.3M644.0 195.0l0.1 0.5M642.6 203.8l0.0 0.0M641.6 149.2l-0.5 1.2M733.1 133.5l1.1 0.8M664.8 154.4l1.9 2.1M713.6 163.4l-2.6 0.9M681.8 121.5l-2.5 1.1M696.1 90.9l-1.6 1.9M743.0 138.9l-0.6 0.1M733.0 107.1l-0.7 0.7M694.4 199.4l-1.4 0.7M575.4 199.9l0.8 0.6M669.0 83.3l0.1 1.7M610.2 36.5l-2.2 2.0M634.0 195.2l-0.8 0.2M688.6 106.4l0.0 2.1M679.6 109.2l-0.1 1.9M648.6 41.7l0.4 0.9M638.0 157.1l-0.2 0.6M577.6 71.1l0.6 1.4M546.0 155.2l-2.0 0.2M541.6 122.4l0.3 0.1M661.3 205.3l0.0 0.2M618.7 145.6l1.4 2.6M612.1 58.9l1.8 0.5M694.1 78.2l0.2 0.1M554.4 153.6l1.0 0.7M653.9 133.4l-0.7 0.3M571.8 171.7l-0.5 0.9M556.6 162.0l0.5 1.1M650.8 175.7l1.5 1.3M638.7 200.3l-1.6 0.5M556.7 156.8l-1.8 1.7M700.2 134.8l2.4 0.1M692.9 108.3l0.2 0.4M658.8 196.7l1.6 2.5M591.0 199.9l1.9 1.6M676.7 133.2l-1.9 0.9M648.5 58.1l-0.1 0.1M624.9 219.4l-0.6 0.1M706.3 179.8l-0.6 0.3M597.6 159.7l0.2 0.3M570.1 165.4l-0.3 0.0M686.2 139.4l-0.2 0.8M660.7 186.1l-0.3 0.2M651.3 185.9l-0.2 0.0M586.7 76.9l2.1 1.8M721.5 67.6l1.2 0.3M620.0 206.2l0.2 0.2M607.2 174.9l-1.0 0.4M651.9 195.8l-1.9 1.1M640.5 221.0l-1.3 0.5M600.5 190.1l1.8 0.0M730.8 94.7l-1.8 1.2M621.3 203.4l-0.2 1.4M655.9 218.6l-0.4 0.2M713.1 101.9l-1.2 2.0M592.5 190.6l-0.2 0.2M632.2 51.3l1.9 1.9M743.4 106.8l-0.4 1.0M557.9 171.5l-2.2 0.3M605.9 42.6l0.6 1.6M580.4 85.0l0.1 1.3M664.2 169.3l-0.9 0.8M552.4 95.7l-0.4 0.4M654.3 173.4l0.4 1.6M621.1 64.2l-0.7 1.9M566.2 171.6l-0.8 0.2M565.9 168.6l-0.0 0.2M703.6 154.8l0.4 0.5M534.8 121.4l-1.0 1.6M648.1 73.4l-0.3 1.4M588.1 197.9l-1.2 1.5M620.9 79.7l1.0 1.6M633.0 156.1l-0.6 0.1M590.3 42.9l-0.7 1.3M588.7 76.8l1.0 2.2M635.4 204.8l1.5 0.7M722.5 73.2l-1.3 0.9M588.1 85.7l-0.0 0.0M578.6 121.2l0.3 0.5M547.5 98.8l-1.1 0.7M581.3 63.4l1.3 1.4M730.7 147.3l2.7 0.1M631.5 199.8l1.7 0.2M591.5 161.5l-0.1 0.0M639.7 94.1l-0.0 2.4M617.8 209.9l-1.4 0.6M694.1 86.2l-2.0 0.6M574.1 146.5l1.1 2.7M660.3 193.9l-2.6 0.4M659.2 179.0l-0.3 2.4M620.9 142.0l-1.0 1.6M680.8 44.0l-0.7 1.9M553.5 174.4l0.7 0.5M561.3 151.2l-0.3 0.2M599.9 145.2l0.3 0.2M620.9 46.6l-1.6 0.8M618.2 181.5l-0.5 0.0M686.5 200.0l2.1 0.6M705.7 168.7l-0.3 0.7M657.2 46.9l0.2 2.7M541.9 165.6l-1.5 1.6M659.4 58.7l2.0 0.8M649.6 85.6l0.1 0.1M688.9 94.0l0.2 1.4" stroke="#fff" stroke-opacity="0.14" stroke-width="3.2" stroke-linecap="round" fill="none"/>
<path d="M652.8 158.9l0.1 0.5M623.1 53.1l-0.2 0.5M624.6 130.3l0.3 1.1M640.2 166.3l0.2 1.8M735.9 146.4l-2.5 1.0M733.8 121.6l-0.9 0.9M649.5 89.5l1.8 0.5M585.5 110.1l-1.3 1.4M677.7 46.3l-2.5 1.7M714.1 110.6l0.9 0.9M555.7 87.8l2.3 0.9M649.7 196.3l-0.1 0.0M561.0 147.2l-1.6 0.2M675.3 122.5l0.2 0.1M628.5 57.0l0.1 0.5M673.0 156.7l-0.1 0.5M601.3 144.0l1.6 1.5M584.5 198.8l0.5 0.1M723.2 160.6l2.5 0.3M561.0 86.1l0.5 2.7M556.2 158.3l-0.7 2.1M709.1 174.4l2.8 1.0M607.5 122.1l1.3 0.8M705.6 103.2l2.8 0.5M680.9 67.8l-0.6 0.1M662.3 205.8l1.6 2.0M573.6 175.1l-0.0 0.0M707.7 174.5l-2.1 1.3M645.0 119.3l-0.6 1.2M605.7 129.1l-1.1 2.1M549.8 141.2l-2.0 0.7M590.9 107.8l1.3 1.1M714.7 101.9l0.3 1.8M667.7 189.5l-2.9 0.7M551.1 128.2l-0.4 1.3M567.5 147.9l1.1 0.3M681.1 55.3l-0.6 0.2M639.1 129.3l0.8 1.3M702.3 77.1l-0.8 0.1M646.4 201.5l0.0 0.0M711.5 173.6l-0.9 0.6M565.4 192.9l1.6 0.8M621.9 174.7l-0.1 2.9M599.1 136.4l-0.5 1.0M570.9 169.3l-2.9 0.7M729.1 169.8l-0.8 1.9M591.3 104.9l1.8 2.3M666.1 62.4l-0.8 1.0M676.4 34.4l0.6 0.1M617.2 137.6l0.9 0.9M603.9 161.5l2.0 1.5M669.6 92.8l0.2 0.0M551.8 98.3l-0.3 1.5M622.2 58.5l2.4 0.5M537.3 144.1l-0.1 0.3M705.8 197.3l-0.2 0.2M561.6 139.2l0.4 1.0M669.4 107.3l-1.9 1.9M626.0 40.8l0.6 0.5M663.8 202.8l-0.4 2.8M640.4 217.1l0.5 0.2M701.3 90.3l-1.0 0.1M663.1 153.3l2.5 0.5M545.6 86.4l-1.7 1.8M560.0 101.4l1.1 1.1M714.1 84.4l-1.6 2.5M647.4 129.2l1.0 0.2M576.7 134.9l0.6 0.6M731.8 84.1l0.8 0.3M574.9 104.1l0.1 0.2M665.1 178.3l1.9 1.3M661.8 115.9l1.8 0.5M562.5 152.3l0.3 0.9M724.8 90.5l0.1 2.7M706.8 179.5l-0.5 0.9M699.2 165.3l0.0 0.0M636.8 67.0l0.2 1.2M544.3 87.4l-2.6 0.8M566.3 116.6l0.2 0.2M585.0 174.6l-0.0 0.0M597.3 67.9l-0.7 0.1M630.2 53.1l0.1 2.3M702.8 105.6l-0.1 0.0M609.4 84.4l-0.0 0.0M641.8 171.1l-1.9 1.4M736.7 101.1l-0.9 0.9M717.2 186.2l-0.9 2.4M652.6 37.3l2.0 0.6M668.4 138.9l1.6 0.8M574.3 93.7l-2.1 1.1M627.1 62.4l-0.3 0.7M589.9 137.0l-0.8 0.4M617.5 47.3l-0.0 0.2M658.4 54.9l-1.6 0.5M567.2 84.3l-0.1 0.5M709.6 186.9l-1.6 1.6M571.5 75.1l0.5 2.7M609.5 43.7l-0.9 1.9M601.2 198.9l-0.1 0.6M669.2 160.3l-0.4 0.8M650.8 29.7l0.1 0.2M679.0 191.5l0.8 1.8M544.3 99.9l1.5 1.7M718.4 113.8l-2.4 0.8M648.4 209.4l1.9 1.6M554.6 102.2l-1.6 2.3M580.8 165.0l1.1 1.0M684.3 163.9l0.1 2.5M573.3 169.2l-0.4 2.1M729.5 157.2l-1.5 0.5M613.9 158.1l1.7 0.7M715.0 160.4l-1.7 1.7M659.5 177.9l1.2 0.0M731.6 129.6l0.0 0.1M679.3 192.4l0.6 0.2M644.3 41.5l0.2 1.0M648.4 90.5l-0.3 0.4M617.1 121.4l1.7 0.2M696.7 201.0l1.9 0.2M638.1 191.2l0.3 0.9M596.2 147.0l-1.7 0.4M746.4 117.7l-1.5 1.2M602.8 182.7l-1.6 0.9M684.1 74.1l0.5 2.9M624.2 70.6l-0.1 0.2M702.6 72.3l-0.2 0.2M713.9 148.4l0.6 0.2M720.8 144.6l0.2 0.8M680.6 104.3l-1.5 0.4M554.7 135.2l-1.0 0.3M596.1 141.0l-2.5 1.6M718.4 129.6l-0.0 0.2M579.4 58.3l-2.2 1.5M564.6 187.2l-0.2 0.1M593.5 96.5l0.5 0.9M699.7 113.2l-1.8 1.3M649.5 166.9l-2.0 0.3M674.5 159.5l0.6 1.2M702.1 181.3l-0.7 1.1M656.0 128.6l-0.3 0.6M588.5 97.2l0.1 1.9M611.7 34.0l1.0 2.0M538.2 114.0l2.8 0.2M573.4 159.4l-2.1 1.3M740.6 113.3l-0.9 1.3M602.2 35.0l0.1 0.1M617.5 72.5l0.5 0.6M652.4 114.7l-0.3 1.2M700.7 163.7l1.0 2.1M635.7 68.6l0.2 0.9M689.8 213.0l-0.1 0.1M612.4 135.0l-1.1 0.8M547.5 78.3l-1.0 0.6M646.4 47.2l-1.7 0.4M671.9 67.9l-0.0 0.0M611.1 80.2l-0.5 0.9M667.5 151.4l0.8 1.7M655.7 178.7l-2.2 1.1M619.0 192.4l1.0 1.1M552.6 112.7l0.2 1.5M681.7 49.7l0.8 1.1M736.0 145.8l1.0 0.8M566.5 79.6l-0.5 2.7M719.8 124.9l-0.8 0.8M717.8 74.5l-0.0 0.0M550.0 156.0l0.7 0.8M606.1 75.0l-1.0 1.9M610.4 72.9l1.7 0.3M653.2 42.7l-1.7 1.7M694.7 186.7l0.5 0.1M562.0 134.3l-1.2 2.3M562.5 70.7l0.8 2.8M724.6 134.3l1.1 1.9M695.0 120.3l0.1 2.7M700.7 195.5l-0.9 0.0M652.8 69.3l2.3 1.0M609.6 72.2l-0.6 0.3M648.8 184.1l-0.7 0.9M693.8 193.8l-1.0 2.3M725.0 142.1l1.1 1.2M734.0 93.1l-1.5 2.0M653.7 30.5l-0.1 2.1M547.4 83.5l1.0 1.9M681.6 60.9l2.1 0.8M665.8 193.1l0.7 0.9M665.6 117.7l0.4 1.0M601.3 94.7l-2.1 0.0M650.4 174.6l0.2 0.5M603.1 188.0l2.0 1.2M657.5 84.6l0.4 0.4M579.3 67.3l-0.3 1.3M600.7 165.0l-0.2 1.0M632.7 88.7l0.4 0.1M663.1 173.5l-1.1 0.3M646.5 141.7l-1.4 0.5M683.1 160.4l-0.5 2.4M612.2 184.8l-0.7 0.2M610.1 48.2l-1.1 0.5M615.4 140.5l-1.3 0.9M642.6 222.9l0.9 0.2M602.0 64.0l0.7 0.2M734.3 131.2l1.4 1.6M670.6 100.5l-0.2 0.9M724.7 177.1l-0.1 0.7M655.0 58.2l1.0 2.3M602.1 60.4l1.5 0.2M735.9 119.0l-0.2 0.2M688.9 81.3l-2.5 1.2M586.8 88.5l-0.6 1.6M635.7 94.1l1.7 1.3M744.6 107.4l1.5 1.1M664.6 156.2l0.3 0.1M699.4 123.1l0.8 0.9M654.3 59.7l-1.5 0.4M567.0 77.1l-0.2 1.1M684.6 134.2l1.6 1.5M569.8 149.7l0.1 0.2M623.1 138.7l-0.4 0.1M598.6 168.2l1.1 0.0M679.8 124.2l-0.8 0.4M556.9 177.9l2.7 0.5M735.2 99.7l0.5 0.8M630.3 111.2l1.6 2.4M615.6 152.8l1.2 1.0M633.8 71.1l-0.1 0.0M609.7 188.7l-0.0 0.5M668.4 92.5l-0.1 0.1M576.8 161.4l0.3 2.0M597.7 139.7l-0.6 1.6M614.1 201.9l0.5 1.2M679.4 155.7l0.1 0.5M654.6 139.6l-1.9 0.5M684.4 139.8l-1.4 1.2M555.6 156.4l0.1 1.3M653.7 73.7l1.1 0.4M722.2 90.4l-1.9 1.8M659.2 89.7l0.1 0.2M674.9 179.3l-0.8 0.5M549.4 82.3l0.6 1.0M720.2 78.8l-0.2 0.4M549.4 93.6l-2.1 1.2M614.4 204.1l0.3 0.4M672.5 129.9l-1.0 1.0M620.4 66.9l0.1 0.0M746.5 134.7l-0.1 0.3M645.0 218.1l1.2 0.3M732.0 101.6l0.3 1.0M596.2 84.4l-0.4 0.3M705.2 112.8l-0.9 1.6M634.2 34.3l0.0 0.0M659.6 94.4l2.3 0.9M569.3 134.5l-2.5 1.4M630.8 43.3l0.6 0.0M693.1 104.2l0.9 0.0M595.2 96.6l-0.8 1.4M563.7 109.1l0.2 2.6M579.9 82.7l0.1 0.6M713.2 135.3l-0.5 0.1M715.5 80.6l1.1 1.5M725.0 185.4l-1.7 0.3M606.2 211.7l-0.6 0.1M719.8 114.5l-1.1 1.0M688.5 75.4l0.4 1.2M638.6 42.1l2.6 0.2M680.2 214.0l-0.9 1.3M592.6 41.2l-2.4 1.6M582.5 129.0l-0.3 2.5M643.9 34.5l-0.6 2.3M665.7 180.0l-1.0 0.3M741.7 142.4l-0.0 0.0M632.2 158.9l-0.2 2.3M627.1 209.8l0.5 0.1M664.7 193.1l-1.0 0.8M604.9 46.5l1.3 0.8M585.4 102.5l0.0 0.8M574.2 121.6l-0.0 1.9M553.8 151.7l1.5 1.1M599.7 69.7l-0.8 1.9M628.1 92.6l-1.8 1.0M600.0 201.2l2.8 1.1M584.9 50.0l-0.9 0.2M625.7 77.9l-1.2 0.6M728.2 118.4l0.9 0.8M563.0 130.4l-0.5 2.6M600.4 189.0l-0.5 0.8M618.9 208.0l-1.5 1.8M642.0 43.0l1.3 1.4M619.6 167.1l-1.3 1.3M701.8 155.5l1.1 1.1M699.4 49.1l-0.1 0.3M707.8 63.0l0.3 2.8M715.2 89.1l-0.1 1.2M675.5 158.4l-2.4 0.1M686.0 192.4l-1.0 0.7M652.2 70.3l-2.5 0.2M603.5 49.9l-0.3 1.2M650.6 30.1l-0.8 2.1M617.0 125.7l-2.8 0.1M601.6 59.4l-0.2 0.1M622.6 41.8l1.7 1.4M595.4 93.4l0.2 0.6M737.2 130.4l-2.1 1.6M568.8 162.7l-0.0 0.2M700.2 122.1l-0.0 0.0M627.9 109.9l-2.3 1.6M712.4 63.2l-2.9 0.1M706.6 89.1l-1.1 0.6M705.7 83.7l2.9 0.4M649.8 182.4l-0.0 0.1M540.6 103.1l-1.1 1.5M722.7 96.2l0.6 1.2M613.1 114.3l1.0 2.5M679.2 207.0l-0.8 0.3M587.8 83.1l-0.3 1.2M656.2 189.4l1.0 2.7M560.1 77.9l0.0 0.5M595.8 88.6l1.6 1.1M659.5 44.3l0.3 0.1M682.1 180.0l0.2 2.1M660.0 156.8l-0.4 0.4M632.5 111.3l-1.4 0.1M588.6 203.4l1.7 0.6M637.8 193.8l2.6 1.1M700.2 146.6l1.9 1.1M692.1 57.2l0.4 2.4M670.0 184.5l0.9 0.8M580.1 163.7l-1.2 0.5M646.8 29.0l-0.1 1.6M741.0 147.9l-2.7 0.4M577.7 206.1l0.5 0.3M628.3 73.3l-1.6 0.9M701.9 169.3l0.4 1.2M570.9 188.8l-2.0 0.1" stroke="#fff" stroke-opacity="0.24" stroke-width="3.3" stroke-linecap="round" fill="none"/>
<path d="M634.9 103.3l-1.9 2.2M605.7 154.0l0.1 0.6M636.6 204.8l2.7 0.8M639.0 208.7l1.1 1.3M674.0 165.1l-0.4 0.2M680.6 171.3l-1.3 1.0M624.0 63.4l0.1 0.3M645.7 172.1l0.5 0.2M667.8 134.7l-0.3 1.3M696.3 101.6l0.9 2.3M727.1 169.9l-1.4 2.2M586.5 51.5l-2.3 0.9M671.9 48.1l-1.7 1.2M650.2 129.2l-1.9 1.5M713.0 106.9l-0.0 0.7M709.2 75.8l0.7 0.7M734.7 94.4l-0.5 0.3M573.1 63.0l1.0 2.8M596.3 39.8l-0.0 0.3M731.7 116.5l0.4 0.2M684.7 186.8l-2.6 0.6M730.7 124.1l-1.6 2.0M630.2 160.7l2.8 1.0M708.0 161.4l-1.8 0.8M636.7 141.1l1.4 0.6M584.7 43.5l0.0 0.1M714.1 67.0l0.0 0.7M552.5 155.6l-1.2 0.6M611.5 81.9l1.6 0.8M642.9 207.8l-2.7 0.4M629.0 113.4l-0.2 0.3M607.2 74.9l-0.7 0.1M645.4 208.2l2.2 0.0M625.3 107.6l-0.5 2.3M684.3 71.1l-0.1 0.0M723.2 163.3l-0.3 2.3M670.5 138.3l-2.1 1.6M575.4 50.5l1.7 2.2M743.9 132.7l-0.2 0.4M584.0 69.0l-0.7 0.1M586.4 124.5l0.5 1.1M600.1 141.8l-0.1 0.3M622.0 175.3l-1.9 0.9M581.6 90.6l0.2 0.8M542.3 146.6l-0.1 0.1M612.6 173.5l-1.7 1.7M584.4 138.3l-0.0 1.6M656.4 118.7l0.1 0.5M622.1 172.8l-2.1 1.4M559.8 182.7l-2.0 1.0M642.3 77.9l1.4 1.0M713.4 94.8l2.6 0.5M599.7 56.0l1.5 0.6M677.5 216.6l1.7 1.5M599.2 159.4l0.0 0.0M596.4 203.9l-1.2 0.0M713.1 165.4l-0.0 0.1M669.9 127.1l0.2 0.3M658.1 40.0l-0.8 0.4M721.6 149.4l2.5 0.5M723.9 74.0l0.1 0.6M726.7 140.3l0.4 2.9M703.3 92.0l0.5 0.0M550.4 142.5l1.6 2.5M556.0 159.5l0.3 0.2M670.5 152.7l2.7 1.0M696.7 86.6l2.3 0.1M565.1 58.6l0.3 0.4M543.0 104.6l0.4 0.5M646.8 127.6l-2.0 0.5M677.5 157.5l-0.0 1.7M701.7 107.2l-0.1 0.7M575.3 49.8l1.8 0.7M608.4 165.6l-1.4 0.5M668.8 87.8l-0.3 0.2M672.1 141.1l0.8 0.9M691.6 75.0l2.2 1.6M736.1 127.9l-2.8 0.2M552.6 91.2l-0.7 2.0M605.0 100.5l-1.5 0.6M703.9 195.8l2.5 0.7M716.6 139.0l-1.1 2.6M667.7 111.6l0.1 0.8M660.2 200.7l-0.2 0.1M559.7 147.9l1.1 2.3M589.1 64.3l0.1 0.2M612.0 70.6l0.8 2.3M566.4 90.1l0.1 0.4M628.3 115.7l-1.3 1.9M708.0 137.5l1.7 1.6M656.0 100.2l2.6 1.3M609.5 207.3l2.7 0.9M576.7 61.8l0.0 0.0M632.2 85.9l0.0 0.0M728.7 108.3l-0.4 0.6M670.2 78.9l-0.8 0.1M629.4 45.2l-1.9 0.6M667.6 97.5l0.0 0.2M673.0 91.3l0.7 1.0M666.6 71.3l-0.2 1.1M586.1 56.9l1.0 2.4M609.1 78.7l-2.5 1.3M730.3 120.4l0.5 0.8M660.6 76.7l-2.6 1.3M708.3 146.5l-1.0 0.5M714.8 62.6l0.2 1.0M709.8 63.6l2.6 0.3M716.2 180.1l-0.6 0.2M693.2 163.2l-2.1 0.3M708.7 199.5l-0.4 1.4M616.7 168.0l1.4 2.4M734.9 142.7l2.3 0.4M547.5 100.2l0.7 1.9M677.7 98.1l1.1 0.8M681.3 202.9l-1.8 1.7M721.0 103.5l-1.5 0.6M702.8 152.0l-1.8 1.1M645.3 79.8l0.7 0.9M711.4 75.9l1.6 2.0M592.6 42.0l-0.7 0.7M614.8 76.3l0.7 0.1M613.9 119.2l-2.1 0.7M632.7 157.6l1.0 1.7" stroke="#fff" stroke-opacity="0.33" stroke-width="3.5" stroke-linecap="round" fill="none"/>
<path d="M714.8 133.7l0.8 0.5M595.6 172.2l-0.9 0.4M742.9 151.2l2.2 0.6M543.6 121.2l-1.5 1.7M639.2 160.4l0.6 0.5M599.5 159.0l0.9 1.7M598.3 80.5l0.9 1.3M583.4 51.5l0.2 1.3M607.1 189.0l-0.9 1.9M689.0 174.5l-0.6 0.9M645.5 57.4l2.4 0.5M610.4 195.5l-0.2 2.3M718.2 77.0l2.3 0.8M552.8 81.0l-0.1 0.5M720.0 72.9l-0.0 0.2M645.9 88.4l1.8 2.1M715.1 191.9l-0.2 1.6M667.4 75.4l-1.4 2.4M611.1 209.3l2.1 1.1M586.4 58.9l1.7 0.5M566.5 161.3l-0.5 0.4M598.9 118.0l-0.7 0.0M691.7 103.5l0.0 1.3M695.3 120.5l0.3 0.6M702.6 127.9l-2.5 0.3M657.1 141.5l-0.0 0.2M555.1 165.3l1.1 0.8M633.1 124.5l-0.9 0.6M659.3 51.7l-0.2 0.4M540.3 141.7l-2.6 1.0M644.7 121.9l-0.3 2.6M625.5 197.0l0.3 0.9M697.2 112.9l1.6 0.2M704.5 60.1l-1.1 0.3M585.9 42.1l-0.4 2.6M615.3 189.7l-0.5 0.2M729.1 145.9l0.9 0.8M597.5 55.8l-0.7 1.7M582.5 130.2l1.6 0.6M634.0 189.9l-0.1 0.8M617.5 97.3l0.2 0.3M680.3 198.6l0.1 0.6M695.0 172.8l1.3 1.8M567.7 107.7l0.4 2.5M709.6 168.1l0.7 2.5M656.7 200.3l-1.0 2.3M644.6 102.8l0.2 0.4M586.1 169.1l-0.8 2.1M710.9 138.1l2.0 0.1M727.9 162.4l-0.0 0.8M635.0 92.5l0.2 1.2M635.7 149.4l1.6 1.2M657.3 202.8l-0.9 0.3M553.4 109.4l1.5 0.1M586.0 130.6l-0.3 2.6M718.5 123.5l0.1 0.2M716.8 75.8l-2.4 1.7M728.9 177.5l0.1 0.2M631.2 127.4l-0.5 0.4M710.5 153.6l-0.1 1.0M576.4 94.3l-0.8 2.4M744.0 106.6l0.9 0.4M575.3 155.6l2.1 1.3M713.1 91.3l-0.0 0.0M666.6 170.6l2.0 1.5" stroke="#fff" stroke-opacity="0.43" stroke-width="3.6" stroke-linecap="round" fill="none"/>
<path d="M649.7 76.6l-0.7 0.5M686.9 184.4l-0.3 0.1M672.3 90.2l0.9 0.9M662.1 57.9l-0.1 0.7M722.7 118.0l-0.1 1.2M665.6 178.4l-0.6 1.0M660.8 150.0l0.2 0.7M723.5 176.5l-1.5 1.4M565.1 151.5l-1.4 1.8M664.3 43.7l-0.0 0.3M558.1 67.9l-0.8 0.8M595.5 199.8l0.6 2.1M589.7 145.6l-1.4 0.0M713.2 77.8l-1.3 0.7M606.9 84.4l0.3 0.1M730.6 123.3l-0.1 0.8M725.5 142.9l0.3 1.1M592.9 189.6l0.3 0.1M598.2 91.3l-1.1 0.2M665.3 71.3l1.2 0.5M628.9 134.3l-0.1 2.7M583.1 187.4l-2.2 1.0M650.2 205.6l1.3 2.1M604.0 186.4l0.9 0.5" stroke="#fff" stroke-opacity="0.52" stroke-width="3.8" stroke-linecap="round" fill="none"/>
<path d="M576.5 202.8l0.0 0.0M625.4 60.1l-0.4 1.0M695.5 178.7l-0.3 0.1M716.6 122.1l-0.0 2.8M739.8 145.7l0.7 2.4M717.1 136.1l-0.9 0.1M715.0 151.7l0.6 1.0M566.7 72.7l-0.7 0.9M670.7 88.7l-0.1 0.2M666.4 68.9l-0.1 2.3M623.4 197.6l0.5 0.6M677.6 56.0l-0.5 0.1M732.4 145.1l0.2 0.2M597.0 143.2l-2.2 0.9" stroke="#fff" stroke-opacity="0.62" stroke-width="4.0" stroke-linecap="round" fill="none"/>
<path d="M648.2 127.8l-1.2 0.3M657.5 196.5l-0.6 0.6M653.4 166.4l-0.7 1.1M667.3 179.1l-0.1 0.3M674.6 184.5l-0.4 0.3M566.2 154.8l3.0 0.3" stroke="#fff" stroke-opacity="0.71" stroke-width="4.1" stroke-linecap="round" fill="none"/>
<path d="M682.1 127.7l1.2 0.3M564.5 138.8l0.2 0.4M545.9 171.0l-0.3 0.5M587.1 210.4l1.5 1.0M669.3 88.0l1.1 2.1M731.0 168.9l-1.5 1.7M664.4 155.1l-0.8 0.5M737.4 133.4l-0.9 1.3M662.0 131.7l2.0 0.2" stroke="#fff" stroke-opacity="0.81" stroke-width="4.3" stroke-linecap="round" fill="none"/>
<path d="M699.0 121.9l0.0 0.0M587.2 191.1l-0.3 0.5M707.4 135.8l1.8 2.3M553.2 75.1l-1.6 1.8M672.6 34.7l-0.6 0.1M592.5 74.6l-0.7 0.2M536.0 120.3l-1.1 1.4M678.0 188.5l1.1 0.7M616.2 48.5l-0.5 1.7" stroke="#fff" stroke-opacity="0.90" stroke-width="4.4" stroke-linecap="round" fill="none"/>
</g>
<rect x="523" y="24" width="233" height="207" fill="url(#apc)"/>
</g></g>
<path fill="#fff" d="M23 26h244v.4h-244zM265.7 26h.4v205h-.4zM23 230.7h244v.4h-244zM279 25h228v.5h-228zM505.2 25h.9v206h-.9zM523 24h.9v207h-.9zM522 24h235v.9h-235zM755.6 24h.5v207h-.5zM522 230.3h235v.8h-235z"/>
<g fill="#00ff00">
<rect x="153.9" y="24.9" width="2.2" height="204"/>
<rect x="391.6" y="25" width="2.2" height="206.8"/>
</g>
<g fill="#ff0000">
<rect x="16.5" y="120" width="249.3" height="2.3"/>
<rect x="279.5" y="120" width="225.7" height="2.3"/>
<rect x="522.2" y="120" width="232.6" height="2.2"/>
</g>
<g class="lab" fill="#fff">
<text x="32.2" y="46.6">a</text>
<text x="291.6" y="46.9">b</text>
<text x="528.2" y="46.3">c</text>
</g>
<g class="lab" fill="#000" style="font-size:20px">
<text x="47.8" y="259.6">d</text>
<text x="286.1" y="259.5">e</text>
<text x="528.6" y="258.2">f</text>
</g>
<path d="M38.70 239.70H266.90M37.00 405.30H269.80M40.20 239.70V405.80M266.40 239.20V405.80" stroke="#3c3c3c" stroke-width="1.1" fill="none"/><path d="M36.60 405.30H40.20M266.40 405.30H270.00M37.90 390.25H40.20M266.40 390.25H268.70M36.60 375.19H40.20M266.40 375.19H270.00M37.90 360.14H40.20M266.40 360.14H268.70M36.60 345.08H40.20M266.40 345.08H270.00M37.90 330.03H40.20M266.40 330.03H268.70M36.60 314.97H40.20M266.40 314.97H270.00M37.90 299.92H40.20M266.40 299.92H268.70M36.60 284.86H40.20M266.40 284.86H270.00M37.90 269.81H40.20M266.40 269.81H268.70M36.60 254.75H40.20M266.40 254.75H270.00M46.48 405.30V408.90M59.77 405.30V407.60M73.06 405.30V408.90M86.35 405.30V407.60M99.64 405.30V408.90M112.93 405.30V407.60M126.22 405.30V408.90M139.51 405.30V407.60M152.80 405.30V408.90M166.09 405.30V407.60M179.38 405.30V408.90M192.67 405.30V407.60M205.96 405.30V408.90M219.25 405.30V407.60M232.54 405.30V408.90M245.83 405.30V407.60M259.12 405.30V408.90" stroke="#3c3c3c" stroke-width="1" fill="none"/><text class="tk" x="46.3" y="418.5" text-anchor="middle" textLength="8.2" lengthAdjust="spacingAndGlyphs">-8</text><text class="tk" x="72.9" y="418.5" text-anchor="middle" textLength="8.2" lengthAdjust="spacingAndGlyphs">-6</text><text class="tk" x="99.4" y="418.5" text-anchor="middle" textLength="8.2" lengthAdjust="spacingAndGlyphs">-4</text><text class="tk" x="126.0" y="418.5" text-anchor="middle" textLength="8.2" lengthAdjust="spacingAndGlyphs">-2</text><text class="tk" x="153.1" y="418.5" text-anchor="middle" textLength="5.1" lengthAdjust="spacingAndGlyphs">0</text><text class="tk" x="179.7" y="418.5" text-anchor="middle" textLength="5.1" lengthAdjust="spacingAndGlyphs">2</text><text class="tk" x="206.3" y="418.5" text-anchor="middle" textLength="5.1" lengthAdjust="spacingAndGlyphs">4</text><text class="tk" x="232.8" y="418.5" text-anchor="middle" textLength="5.1" lengthAdjust="spacingAndGlyphs">6</text><text class="tk" x="259.4" y="418.5" text-anchor="middle" textLength="5.1" lengthAdjust="spacingAndGlyphs">8</text><text class="tk" x="34.4" y="408.5" text-anchor="end" textLength="12.8" lengthAdjust="spacingAndGlyphs">0.0</text><text class="tk" x="34.4" y="378.4" text-anchor="end" textLength="12.8" lengthAdjust="spacingAndGlyphs">0.2</text><text class="tk" x="34.4" y="348.3" text-anchor="end" textLength="12.8" lengthAdjust="spacingAndGlyphs">0.4</text><text class="tk" x="34.4" y="318.2" text-anchor="end" textLength="12.8" lengthAdjust="spacingAndGlyphs">0.6</text><text class="tk" x="34.4" y="288.1" text-anchor="end" textLength="12.8" lengthAdjust="spacingAndGlyphs">0.8</text><text class="tk" x="34.4" y="258.0" text-anchor="end" textLength="12.8" lengthAdjust="spacingAndGlyphs">1.0</text>
<path d="M40.5 398.6L41.5 398.6L42.5 398.5L43.5 398.4L44.5 398.3L45.5 398.2L46.5 398.1L47.5 398.0L48.5 397.9L49.5 397.8L50.5 397.7L51.5 397.5L52.5 397.3L53.5 397.2L54.5 397.0L55.5 396.8L56.5 396.6L57.5 396.3L58.5 396.1L59.5 395.8L60.5 395.5L61.5 395.2L62.5 394.9L63.5 394.5L64.5 394.1L65.5 393.7L66.5 393.3L67.5 392.8L68.5 392.3L69.5 391.8L70.5 391.3L71.5 390.7L72.5 390.1L73.5 389.4L74.5 388.7L75.5 388.0L76.5 387.2L77.5 386.4L78.5 385.5L79.5 384.6L80.5 383.7L81.5 382.7L82.5 381.6L83.5 380.6L84.5 379.4L85.5 378.2L86.5 377.0L87.5 375.7L88.5 374.3L89.5 372.9L90.5 371.4L91.5 369.9L92.5 368.4L93.5 366.7L94.5 365.0L95.5 363.3L96.5 361.5L97.5 359.6L98.5 357.7L99.5 355.8L100.5 353.7L101.5 351.7L102.5 349.6L103.5 347.4L104.5 345.2L105.5 342.9L106.5 340.6L107.5 338.3L108.5 335.9L109.5 333.5L110.5 331.0L111.5 328.5L112.5 326.0L113.5 323.5L114.5 320.9L115.5 318.4L116.5 315.8L117.5 313.2L118.5 310.6L119.5 308.0L120.5 305.5L121.5 302.9L122.5 300.3L123.5 297.8L124.5 295.3L125.5 292.8L126.5 290.4L127.5 288.0L128.5 285.7L129.5 283.4L130.5 281.1L131.5 278.9L132.5 276.8L133.5 274.8L134.5 272.8L135.5 270.9L136.5 269.1L137.5 267.4L138.5 265.8L139.5 264.3L140.5 262.8L141.5 261.5L142.5 260.3L143.5 259.2L144.5 258.3L145.5 257.4L146.5 256.6L147.5 256.0L148.5 255.5L149.5 255.1L150.5 254.9L151.5 254.8L152.5 254.8L153.5 254.9L154.5 255.1L155.5 255.5L156.5 256.0L157.5 256.6L158.5 257.4L159.5 258.3L160.5 259.2L161.5 260.3L162.5 261.5L163.5 262.8L164.5 264.3L165.5 265.8L166.5 267.4L167.5 269.1L168.5 270.9L169.5 272.8L170.5 274.8L171.5 276.8L172.5 278.9L173.5 281.1L174.5 283.4L175.5 285.7L176.5 288.0L177.5 290.4L178.5 292.8L179.5 295.3L180.5 297.8L181.5 300.3L182.5 302.9L183.5 305.5L184.5 308.0L185.5 310.6L186.5 313.2L187.5 315.8L188.5 318.4L189.5 320.9L190.5 323.5L191.5 326.0L192.5 328.5L193.5 331.0L194.5 333.5L195.5 335.9L196.5 338.3L197.5 340.6L198.5 342.9L199.5 345.2L200.5 347.4L201.5 349.6L202.5 351.7L203.5 353.7L204.5 355.8L205.5 357.7L206.5 359.6L207.5 361.5L208.5 363.3L209.5 365.0L210.5 366.7L211.5 368.4L212.5 369.9L213.5 371.4L214.5 372.9L215.5 374.3L216.5 375.7L217.5 377.0L218.5 378.2L219.5 379.4L220.5 380.6L221.5 381.6L222.5 382.7L223.5 383.7L224.5 384.6L225.5 385.5L226.5 386.4L227.5 387.2L228.5 388.0L229.5 388.7L230.5 389.4L231.5 390.1L232.5 390.7L233.5 391.3L234.5 391.8L235.5 392.3L236.5 392.8L237.5 393.3L238.5 393.7L239.5 394.1L240.5 394.5L241.5 394.9L242.5 395.2L243.5 395.5L244.5 395.8L245.5 396.1L246.5 396.3L247.5 396.6L248.5 396.8L249.5 397.0L250.5 397.2L251.5 397.3L252.5 397.5L253.5 397.7L254.5 397.8L255.5 397.9L256.5 398.0L257.5 398.1L258.5 398.2L259.5 398.3L260.5 398.4L261.5 398.5L262.5 398.6L263.5 398.6L264.5 398.7" stroke="#ff2020" stroke-width="1" fill="none"/>
<path d="M40.5 372.7L41.5 371.8L42.5 370.9L43.5 369.9L44.5 369.0L45.5 368.0L46.5 367.0L47.5 366.0L48.5 365.0L49.5 364.0L50.5 362.9L51.5 361.9L52.5 360.8L53.5 359.7L54.5 358.6L55.5 357.4L56.5 356.3L57.5 355.1L58.5 354.0L59.5 352.8L60.5 351.6L61.5 350.4L62.5 349.1L63.5 347.9L64.5 346.6L65.5 345.4L66.5 344.1L67.5 342.8L68.5 341.5L69.5 340.2L70.5 338.8L71.5 337.5L72.5 336.1L73.5 334.8L74.5 333.4L75.5 332.0L76.5 330.7L77.5 329.3L78.5 327.9L79.5 326.5L80.5 325.1L81.5 323.6L82.5 322.2L83.5 320.8L84.5 319.4L85.5 317.9L86.5 316.5L87.5 315.1L88.5 313.7L89.5 312.2L90.5 310.8L91.5 309.4L92.5 307.9L93.5 306.5L94.5 305.1L95.5 303.7L96.5 302.3L97.5 300.9L98.5 299.5L99.5 298.1L100.5 296.7L101.5 295.3L102.5 293.9L103.5 292.6L104.5 291.3L105.5 289.9L106.5 288.6L107.5 287.3L108.5 286.0L109.5 284.8L110.5 283.5L111.5 282.3L112.5 281.1L113.5 279.9L114.5 278.7L115.5 277.5L116.5 276.4L117.5 275.3L118.5 274.2L119.5 273.1L120.5 272.1L121.5 271.0L122.5 270.0L123.5 269.1L124.5 268.1L125.5 267.2L126.5 266.3L127.5 265.5L128.5 264.6L129.5 263.8L130.5 263.1L131.5 262.3L132.5 261.6L133.5 261.0L134.5 260.3L135.5 259.7L136.5 259.1L137.5 258.6L138.5 258.1L139.5 257.6L140.5 257.2L141.5 256.8L142.5 256.4L143.5 256.1L144.5 255.8L145.5 255.5L146.5 255.3L147.5 255.1L148.5 255.0L149.5 254.9L150.5 254.8L151.5 254.8L152.5 254.8L153.5 254.8L154.5 254.9L155.5 255.0L156.5 255.1L157.5 255.3L158.5 255.5L159.5 255.8L160.5 256.1L161.5 256.4L162.5 256.8L163.5 257.2L164.5 257.6L165.5 258.1L166.5 258.6L167.5 259.1L168.5 259.7L169.5 260.3L170.5 261.0L171.5 261.6L172.5 262.3L173.5 263.1L174.5 263.8L175.5 264.6L176.5 265.5L177.5 266.3L178.5 267.2L179.5 268.1L180.5 269.1L181.5 270.0L182.5 271.0L183.5 272.1L184.5 273.1L185.5 274.2L186.5 275.3L187.5 276.4L188.5 277.5L189.5 278.7L190.5 279.9L191.5 281.1L192.5 282.3L193.5 283.5L194.5 284.8L195.5 286.0L196.5 287.3L197.5 288.6L198.5 289.9L199.5 291.3L200.5 292.6L201.5 293.9L202.5 295.3L203.5 296.7L204.5 298.1L205.5 299.5L206.5 300.9L207.5 302.3L208.5 303.7L209.5 305.1L210.5 306.5L211.5 307.9L212.5 309.4L213.5 310.8L214.5 312.2L215.5 313.7L216.5 315.1L217.5 316.5L218.5 317.9L219.5 319.4L220.5 320.8L221.5 322.2L222.5 323.6L223.5 325.1L224.5 326.5L225.5 327.9L226.5 329.3L227.5 330.7L228.5 332.0L229.5 333.4L230.5 334.8L231.5 336.1L232.5 337.5L233.5 338.8L234.5 340.2L235.5 341.5L236.5 342.8L237.5 344.1L238.5 345.4L239.5 346.6L240.5 347.9L241.5 349.1L242.5 350.4L243.5 351.6L244.5 352.8L245.5 354.0L246.5 355.1L247.5 356.3L248.5 357.4L249.5 358.6L250.5 359.7L251.5 360.8L252.5 361.9L253.5 362.9L254.5 364.0L255.5 365.0L256.5 366.0L257.5 367.0L258.5 368.0L259.5 369.0L260.5 369.9L261.5 370.9L262.5 371.8L263.5 372.7L264.5 373.6L265.5 374.5" stroke="#00ff00" stroke-width="1.8" fill="none"/>
<rect x="201.8" y="239.6" width="63.8" height="20.8" fill="#fff" stroke="#555" stroke-width="1"/><path d="M202.6 244.4H223.3" stroke="#ff2828" stroke-width="0.90"/><text class="lg" x="225.4" y="247.6" textLength="38.6" lengthAdjust="spacingAndGlyphs">Horizontal</text><path d="M202.6 255.6H223.3" stroke="#00ff00" stroke-width="1.90"/><text class="lg" x="225.4" y="258.8" textLength="28.0" lengthAdjust="spacingAndGlyphs">Vertical</text>
<path d="M280.10 239.50H509.70M278.40 404.40H512.60M281.60 239.50V404.90M509.20 239.00V404.90" stroke="#333" stroke-width="1.1" fill="none"/><path d="M278.00 404.40H281.60M509.20 404.40H512.80M279.30 389.41H281.60M509.20 389.41H511.50M278.00 374.42H281.60M509.20 374.42H512.80M279.30 359.43H281.60M509.20 359.43H511.50M278.00 344.44H281.60M509.20 344.44H512.80M279.30 329.45H281.60M509.20 329.45H511.50M278.00 314.45H281.60M509.20 314.45H512.80M279.30 299.46H281.60M509.20 299.46H511.50M278.00 284.47H281.60M509.20 284.47H512.80M279.30 269.48H281.60M509.20 269.48H511.50M278.00 254.49H281.60M509.20 254.49H512.80M288.58 404.40V408.00M301.92 404.40V406.70M315.26 404.40V408.00M328.60 404.40V406.70M341.94 404.40V408.00M355.28 404.40V406.70M368.62 404.40V408.00M381.96 404.40V406.70M395.30 404.40V408.00M408.64 404.40V406.70M421.98 404.40V408.00M435.32 404.40V406.70M448.66 404.40V408.00M462.00 404.40V406.70M475.34 404.40V408.00M488.68 404.40V406.70M502.02 404.40V408.00" stroke="#333" stroke-width="1" fill="none"/><text class="tk" x="288.4" y="417.2" text-anchor="middle" textLength="8.2" lengthAdjust="spacingAndGlyphs">-8</text><text class="tk" x="315.1" y="417.2" text-anchor="middle" textLength="8.2" lengthAdjust="spacingAndGlyphs">-6</text><text class="tk" x="341.7" y="417.2" text-anchor="middle" textLength="8.2" lengthAdjust="spacingAndGlyphs">-4</text><text class="tk" x="368.4" y="417.2" text-anchor="middle" textLength="8.2" lengthAdjust="spacingAndGlyphs">-2</text><text class="tk" x="395.6" y="417.2" text-anchor="middle" textLength="5.1" lengthAdjust="spacingAndGlyphs">0</text><text class="tk" x="422.3" y="417.2" text-anchor="middle" textLength="5.1" lengthAdjust="spacingAndGlyphs">2</text><text class="tk" x="449.0" y="417.2" text-anchor="middle" textLength="5.1" lengthAdjust="spacingAndGlyphs">4</text><text class="tk" x="475.6" y="417.2" text-anchor="middle" textLength="5.1" lengthAdjust="spacingAndGlyphs">6</text><text class="tk" x="502.3" y="417.2" text-anchor="middle" textLength="5.1" lengthAdjust="spacingAndGlyphs">8</text>
<path d="M281.9 353.8L282.9 353.0L283.9 352.2L284.9 351.4L285.9 350.6L286.9 349.8L287.9 348.9L288.9 348.1L289.9 347.2L290.9 346.3L291.9 345.4L292.9 344.5L293.9 343.6L294.9 342.7L295.9 341.7L296.9 340.8L297.9 339.8L298.9 338.8L299.9 337.8L300.9 336.8L301.9 335.8L302.9 334.7L303.9 333.7L304.9 332.7L305.9 331.6L306.9 330.5L307.9 329.5L308.9 328.4L309.9 327.3L310.9 326.2L311.9 325.0L312.9 323.9L313.9 322.8L314.9 321.7L315.9 320.5L316.9 319.4L317.9 318.2L318.9 317.0L319.9 315.9L320.9 314.7L321.9 313.5L322.9 312.3L323.9 311.2L324.9 310.0L325.9 308.8L326.9 307.6L327.9 306.4L328.9 305.2L329.9 304.0L330.9 302.8L331.9 301.7L332.9 300.5L333.9 299.3L334.9 298.1L335.9 296.9L336.9 295.8L337.9 294.6L338.9 293.4L339.9 292.3L340.9 291.1L341.9 290.0L342.9 288.8L343.9 287.7L344.9 286.6L345.9 285.5L346.9 284.4L347.9 283.3L348.9 282.2L349.9 281.1L350.9 280.1L351.9 279.0L352.9 278.0L353.9 277.0L354.9 276.0L355.9 275.0L356.9 274.1L357.9 273.1L358.9 272.2L359.9 271.3L360.9 270.4L361.9 269.5L362.9 268.7L363.9 267.8L364.9 267.0L365.9 266.2L366.9 265.5L367.9 264.7L368.9 264.0L369.9 263.3L370.9 262.6L371.9 262.0L372.9 261.3L373.9 260.7L374.9 260.2L375.9 259.6L376.9 259.1L377.9 258.6L378.9 258.1L379.9 257.7L380.9 257.3L381.9 256.9L382.9 256.5L383.9 256.2L384.9 255.9L385.9 255.6L386.9 255.4L387.9 255.2L388.9 255.0L389.9 254.8L390.9 254.7L391.9 254.6L392.9 254.5L393.9 254.5L394.9 254.5L395.9 254.5L396.9 254.6L397.9 254.7L398.9 254.8L399.9 254.9L400.9 255.1L401.9 255.3L402.9 255.5L403.9 255.8L404.9 256.1L405.9 256.4L406.9 256.7L407.9 257.1L408.9 257.5L409.9 257.9L410.9 258.4L411.9 258.9L412.9 259.4L413.9 259.9L414.9 260.5L415.9 261.1L416.9 261.7L417.9 262.4L418.9 263.0L419.9 263.7L420.9 264.4L421.9 265.2L422.9 265.9L423.9 266.7L424.9 267.5L425.9 268.3L426.9 269.2L427.9 270.0L428.9 270.9L429.9 271.8L430.9 272.7L431.9 273.7L432.9 274.6L433.9 275.6L434.9 276.6L435.9 277.6L436.9 278.6L437.9 279.7L438.9 280.7L439.9 281.8L440.9 282.8L441.9 283.9L442.9 285.0L443.9 286.1L444.9 287.2L445.9 288.4L446.9 289.5L447.9 290.6L448.9 291.8L449.9 293.0L450.9 294.1L451.9 295.3L452.9 296.5L453.9 297.6L454.9 298.8L455.9 300.0L456.9 301.2L457.9 302.4L458.9 303.6L459.9 304.8L460.9 305.9L461.9 307.1L462.9 308.3L463.9 309.5L464.9 310.7L465.9 311.9L466.9 313.1L467.9 314.2L468.9 315.4L469.9 316.6L470.9 317.7L471.9 318.9L472.9 320.1L473.9 321.2L474.9 322.3L475.9 323.5L476.9 324.6L477.9 325.7L478.9 326.8L479.9 327.9L480.9 329.0L481.9 330.1L482.9 331.2L483.9 332.2L484.9 333.3L485.9 334.3L486.9 335.4L487.9 336.4L488.9 337.4L489.9 338.4L490.9 339.4L491.9 340.4L492.9 341.3L493.9 342.3L494.9 343.2L495.9 344.2L496.9 345.1L497.9 346.0L498.9 346.9L499.9 347.7L500.9 348.6L501.9 349.5L502.9 350.3L503.9 351.1L504.9 351.9L505.9 352.7L506.9 353.5L507.9 354.3L508.9 355.0" stroke="#ff2020" stroke-width="1" fill="none"/>
<path d="M281.9 299.5L282.9 298.8L283.9 298.2L284.9 297.5L285.9 296.8L286.9 296.2L287.9 295.5L288.9 294.9L289.9 294.2L290.9 293.6L291.9 292.9L292.9 292.3L293.9 291.7L294.9 291.0L295.9 290.4L296.9 289.8L297.9 289.1L298.9 288.5L299.9 287.9L300.9 287.3L301.9 286.6L302.9 286.0L303.9 285.4L304.9 284.8L305.9 284.2L306.9 283.6L307.9 283.0L308.9 282.4L309.9 281.9L310.9 281.3L311.9 280.7L312.9 280.1L313.9 279.6L314.9 279.0L315.9 278.4L316.9 277.9L317.9 277.3L318.9 276.8L319.9 276.2L320.9 275.7L321.9 275.2L322.9 274.7L323.9 274.1L324.9 273.6L325.9 273.1L326.9 272.6L327.9 272.1L328.9 271.6L329.9 271.1L330.9 270.6L331.9 270.2L332.9 269.7L333.9 269.2L334.9 268.8L335.9 268.3L336.9 267.9L337.9 267.4L338.9 267.0L339.9 266.6L340.9 266.2L341.9 265.7L342.9 265.3L343.9 264.9L344.9 264.5L345.9 264.2L346.9 263.8L347.9 263.4L348.9 263.0L349.9 262.7L350.9 262.3L351.9 262.0L352.9 261.6L353.9 261.3L354.9 261.0L355.9 260.7L356.9 260.4L357.9 260.1L358.9 259.8L359.9 259.5L360.9 259.2L361.9 258.9L362.9 258.7L363.9 258.4L364.9 258.2L365.9 257.9L366.9 257.7L367.9 257.5L368.9 257.2L369.9 257.0L370.9 256.8L371.9 256.6L372.9 256.5L373.9 256.3L374.9 256.1L375.9 256.0L376.9 255.8L377.9 255.7L378.9 255.5L379.9 255.4L380.9 255.3L381.9 255.2L382.9 255.1L383.9 255.0L384.9 254.9L385.9 254.8L386.9 254.7L387.9 254.7L388.9 254.6L389.9 254.6L390.9 254.5L391.9 254.5L392.9 254.5L393.9 254.5L394.9 254.5L395.9 254.5L396.9 254.5L397.9 254.5L398.9 254.6L399.9 254.6L400.9 254.7L401.9 254.7L402.9 254.8L403.9 254.9L404.9 254.9L405.9 255.0L406.9 255.1L407.9 255.2L408.9 255.3L409.9 255.5L410.9 255.6L411.9 255.7L412.9 255.9L413.9 256.1L414.9 256.2L415.9 256.4L416.9 256.6L417.9 256.8L418.9 257.0L419.9 257.2L420.9 257.4L421.9 257.6L422.9 257.8L423.9 258.1L424.9 258.3L425.9 258.6L426.9 258.8L427.9 259.1L428.9 259.4L429.9 259.6L430.9 259.9L431.9 260.2L432.9 260.5L433.9 260.9L434.9 261.2L435.9 261.5L436.9 261.8L437.9 262.2L438.9 262.5L439.9 262.9L440.9 263.3L441.9 263.6L442.9 264.0L443.9 264.4L444.9 264.8L445.9 265.2L446.9 265.6L447.9 266.0L448.9 266.4L449.9 266.8L450.9 267.3L451.9 267.7L452.9 268.1L453.9 268.6L454.9 269.0L455.9 269.5L456.9 270.0L457.9 270.5L458.9 270.9L459.9 271.4L460.9 271.9L461.9 272.4L462.9 272.9L463.9 273.4L464.9 273.9L465.9 274.4L466.9 275.0L467.9 275.5L468.9 276.0L469.9 276.6L470.9 277.1L471.9 277.7L472.9 278.2L473.9 278.8L474.9 279.3L475.9 279.9L476.9 280.5L477.9 281.0L478.9 281.6L479.9 282.2L480.9 282.8L481.9 283.4L482.9 284.0L483.9 284.6L484.9 285.2L485.9 285.8L486.9 286.4L487.9 287.0L488.9 287.6L489.9 288.3L490.9 288.9L491.9 289.5L492.9 290.1L493.9 290.8L494.9 291.4L495.9 292.0L496.9 292.7L497.9 293.3L498.9 294.0L499.9 294.6L500.9 295.3L501.9 295.9L502.9 296.6L503.9 297.2L504.9 297.9L505.9 298.6L506.9 299.2L507.9 299.9L508.9 300.5" stroke="#00ff00" stroke-width="1.8" fill="none"/>
<rect x="444.5" y="239.5" width="63.6" height="20.9" fill="#fff" stroke="#555" stroke-width="1"/><path d="M445.3 244.4H466.0" stroke="#ff2828" stroke-width="0.90"/><text class="lg" x="468.1" y="247.6" textLength="38.8" lengthAdjust="spacingAndGlyphs">Horizontal</text><path d="M445.3 255.4H466.0" stroke="#00ff00" stroke-width="1.90"/><text class="lg" x="468.1" y="258.6" textLength="28.4" lengthAdjust="spacingAndGlyphs">Vertical</text>
<path d="M524.80 240.20H752.10M523.10 404.60H755.00M526.30 240.20V405.10M751.60 239.70V405.10" stroke="#6a6a6a" stroke-width="1.1" fill="none"/><path d="M522.70 404.60H526.30M751.60 404.60H755.20M524.00 389.65H526.30M751.60 389.65H753.90M522.70 374.71H526.30M751.60 374.71H755.20M524.00 359.76H526.30M751.60 359.76H753.90M522.70 344.82H526.30M751.60 344.82H755.20M524.00 329.87H526.30M751.60 329.87H753.90M522.70 314.93H526.30M751.60 314.93H755.20M524.00 299.98H526.30M751.60 299.98H753.90M522.70 285.04H526.30M751.60 285.04H755.20M524.00 270.09H526.30M751.60 270.09H753.90M522.70 255.15H526.30M751.60 255.15H755.20M532.69 404.60V408.20M545.91 404.60V406.90M559.13 404.60V408.20M572.35 404.60V406.90M585.57 404.60V408.20M598.79 404.60V406.90M612.01 404.60V408.20M625.23 404.60V406.90M638.45 404.60V408.20M651.67 404.60V406.90M664.89 404.60V408.20M678.11 404.60V406.90M691.33 404.60V408.20M704.55 404.60V406.90M717.77 404.60V408.20M730.99 404.60V406.90M744.21 404.60V408.20" stroke="#6a6a6a" stroke-width="1" fill="none"/><text class="tk" x="532.5" y="417.6" text-anchor="middle" textLength="8.2" lengthAdjust="spacingAndGlyphs">-8</text><text class="tk" x="558.9" y="417.6" text-anchor="middle" textLength="8.2" lengthAdjust="spacingAndGlyphs">-6</text><text class="tk" x="585.4" y="417.6" text-anchor="middle" textLength="8.2" lengthAdjust="spacingAndGlyphs">-4</text><text class="tk" x="611.8" y="417.6" text-anchor="middle" textLength="8.2" lengthAdjust="spacingAndGlyphs">-2</text><text class="tk" x="638.8" y="417.6" text-anchor="middle" textLength="5.1" lengthAdjust="spacingAndGlyphs">0</text><text class="tk" x="665.2" y="417.6" text-anchor="middle" textLength="5.1" lengthAdjust="spacingAndGlyphs">2</text><text class="tk" x="691.6" y="417.6" text-anchor="middle" textLength="5.1" lengthAdjust="spacingAndGlyphs">4</text><text class="tk" x="718.1" y="417.6" text-anchor="middle" textLength="5.1" lengthAdjust="spacingAndGlyphs">6</text><text class="tk" x="744.5" y="417.6" text-anchor="middle" textLength="5.1" lengthAdjust="spacingAndGlyphs">8</text><text class="tk" x="757.6" y="407.8" textLength="12.8" lengthAdjust="spacingAndGlyphs">0.0</text><text class="tk" x="757.6" y="377.9" textLength="12.8" lengthAdjust="spacingAndGlyphs">0.2</text><text class="tk" x="757.6" y="348.0" textLength="12.8" lengthAdjust="spacingAndGlyphs">0.4</text><text class="tk" x="757.6" y="318.1" textLength="12.8" lengthAdjust="spacingAndGlyphs">0.6</text><text class="tk" x="757.6" y="288.2" textLength="12.8" lengthAdjust="spacingAndGlyphs">0.8</text><text class="tk" x="757.6" y="258.3" textLength="12.8" lengthAdjust="spacingAndGlyphs">1.0</text>
<path d="M526.0 394.6L526.0 395.9L526.8 395.8L527.7 391.0L528.6 392.6L529.5 384.3L530.4 388.5L530.4 386.3L531.3 385.9L531.8 390.3L532.6 387.2L533.5 392.6L534.3 389.9L535.1 394.3L535.3 395.9L535.9 389.6L536.6 391.1L537.2 384.0L538.0 379.4L538.8 366.0L539.3 366.2L539.9 360.1L540.1 361.2L540.6 370.5L541.5 375.6L542.4 386.8L542.7 387.3L543.0 384.2L543.9 388.0L544.5 376.1L545.3 367.7L545.7 358.2L545.8 357.9L546.4 369.1L546.5 370.2L547.3 353.6L547.3 355.7L547.9 365.8L548.5 371.5L549.5 377.7L550.4 380.8L551.1 386.6L551.1 386.3L552.0 376.4L552.8 375.4L553.6 366.2L554.2 364.4L554.9 354.5L555.2 356.1L556.0 384.1L556.5 403.3L557.0 395.2L557.9 386.7L558.6 375.0L559.3 370.2L559.9 357.5L560.4 351.5L561.0 341.1L561.7 332.0L562.5 313.3L563.0 304.4L563.6 255.1L563.8 272.3L564.5 304.7L564.8 308.3L565.2 296.3L565.6 291.2L566.1 311.7L566.8 350.0L567.5 366.4L568.2 376.1L569.0 384.2L569.6 381.4L570.6 396.0L570.8 395.3L571.1 390.9L572.0 384.1L572.2 380.2L572.9 379.8L573.4 382.5L573.8 382.2L574.3 367.0L574.6 363.2L575.0 374.3L575.7 379.2L576.3 389.2L576.6 390.3L576.8 386.4L577.4 380.7L578.4 366.6L579.0 359.4L579.9 339.0L580.6 327.0L580.8 331.6L581.8 339.7L582.4 350.5L583.1 357.7L583.9 367.8L584.8 372.4L585.3 382.0L586.2 387.9L586.7 393.3L587.1 392.2L588.0 382.5L588.3 383.3L588.5 387.4L589.5 388.9L590.0 396.0L590.7 392.6L591.3 395.3L591.5 396.4L592.5 390.3L593.1 389.3L594.1 382.0L594.9 379.9L595.5 372.2L596.2 371.7L596.8 366.2L597.3 367.0L597.9 361.7L598.8 363.0L598.9 361.2L599.8 365.3L600.3 374.6L600.9 375.2L601.9 384.5L602.6 386.0L603.3 392.8L603.9 396.3L604.0 392.4L604.8 395.6L605.7 388.8L606.4 386.6L607.1 381.1L607.7 380.3L608.6 372.5L609.1 373.9L609.9 365.3L610.8 359.1L611.4 347.9L611.8 343.1L612.2 358.5L612.8 368.2L613.2 361.1L614.0 357.7L614.9 347.5L615.4 345.1L615.4 348.1L616.2 359.0L616.7 371.7L617.6 377.4L618.0 384.3L618.3 383.1L619.0 374.6L620.0 373.8L620.4 368.2L620.9 375.4L621.4 383.3L621.9 376.0L622.6 361.6L623.4 351.6L624.2 331.5L624.9 303.9L625.4 284.6L625.6 288.2L626.0 298.2L626.3 291.0L626.6 281.2L626.9 290.2L627.0 296.2L627.6 279.2L627.6 274.1L628.6 310.2L629.5 349.2L630.3 358.0L631.1 370.6L631.8 373.2L632.3 380.1L633.0 381.1L633.8 387.4L634.8 387.4L635.5 391.4L636.1 391.3L636.3 390.3L637.2 390.8L638.0 383.4L638.1 388.3L638.9 390.1L639.7 388.7L640.1 390.3L640.4 390.5L641.3 386.9L641.9 389.1L642.1 388.3L642.7 397.2L642.9 401.9L643.5 390.8L644.4 371.6L645.0 370.1L646.0 355.7L646.8 346.7L647.6 328.3L648.1 324.3L648.3 318.4L648.9 328.9L649.3 338.1L649.5 340.9L650.3 332.1L650.5 334.1L651.1 350.4L652.0 363.7L652.5 373.2L652.8 367.6L653.3 353.1L653.7 359.5L654.1 370.2L654.4 368.1L655.1 355.1L655.2 354.7L656.0 373.1L656.1 374.2L656.9 357.9L657.3 356.1L657.6 365.4L658.5 374.4L659.4 386.2L660.3 384.4L661.2 388.3L661.2 390.0L662.2 380.2L662.9 378.0L663.7 359.2L664.3 349.6L665.2 314.4L665.2 314.7L666.1 336.4L666.9 338.7L667.7 352.4L668.2 360.2L668.6 352.4L669.4 341.7L670.0 331.8L670.4 331.0L670.9 351.8L671.7 358.7L672.2 365.2L672.5 362.7L673.2 347.9L674.0 336.8L674.9 314.8L675.7 292.6L676.2 274.1L676.6 286.1L677.1 302.3L677.4 304.3L677.7 294.5L678.4 278.2L678.4 278.9L679.2 308.2L679.9 333.8L680.7 363.5L681.5 376.7L682.1 378.8L682.2 382.2L682.8 377.1L683.4 360.7L683.4 364.2L684.0 368.2L684.6 370.7L685.2 382.2L685.8 383.9L685.9 388.3L686.4 379.8L687.0 368.9L687.3 366.2L687.7 371.1L688.3 374.2L688.4 369.5L689.2 364.6L690.0 352.3L690.6 349.3L691.6 336.2L692.1 333.6L692.3 330.0L692.8 331.5L693.4 346.1L694.2 354.4L694.7 366.8L695.6 370.9L696.3 380.6L696.9 380.3L697.7 386.9L697.9 386.3L698.2 383.9L699.0 383.4L699.3 380.2L699.7 379.7L700.3 384.3L700.5 381.9L701.4 352.4L701.5 355.1L702.3 370.1L702.7 374.2L703.0 368.9L703.9 365.2L703.9 363.2L704.7 364.7L705.3 372.2L705.4 372.3L706.0 365.6L706.8 360.7L707.6 343.9L707.9 340.1L708.5 363.4L708.7 368.2L709.5 337.3L710.0 326.0L710.3 339.4L711.0 348.3L711.9 370.1L712.0 370.2L712.4 364.4L713.0 361.1L713.4 356.1L713.8 362.7L714.4 376.2L714.6 372.1L715.2 355.3L716.0 340.2L716.9 313.9L717.6 307.3L718.3 291.3L718.4 293.2L719.0 319.2L719.6 323.5L720.6 345.7L721.3 359.0L721.8 378.2L722.2 376.5L723.2 366.7L724.0 363.0L724.4 357.1L724.6 358.0L725.6 373.5L726.3 373.5L726.8 378.2L727.0 377.0L727.7 364.0L728.7 347.9L729.4 326.5L730.1 307.6L730.8 291.5L731.4 279.6L731.6 269.1L732.2 281.7L732.8 288.2L732.9 286.9L733.4 269.1L733.6 274.0L734.4 312.2L735.3 340.3L735.9 352.8L736.6 361.3L737.1 368.2L737.3 366.3L737.7 352.1L738.2 361.1L739.1 375.2L739.7 373.4L740.1 376.2L740.4 373.3L741.0 355.5L742.0 343.9L742.1 340.1L742.6 341.0L743.4 358.3L744.2 366.4L745.0 385.1L745.8 385.6L746.6 395.2L747.2 391.4L748.1 398.1L748.7 397.4L749.5 400.1L750.2 398.5L750.5 400.3L750.8 400.7L751.5 397.3" stroke="#ff0000" stroke-width="1" stroke-linejoin="round" fill="none"/>
<rect x="686.5" y="240.0" width="64.4" height="10.4" fill="#fff" stroke="#555" stroke-width="1"/><path d="M687.3 245.2H708.0" stroke="#ff2828" stroke-width="0.90"/><text class="lg" x="710.1" y="248.4" textLength="38.8" lengthAdjust="spacingAndGlyphs">Horizontal</text>
<text class="ax" x="119.6" y="435.5" textLength="67.3" lengthAdjust="spacingAndGlyphs">Position (mm)</text>
<text class="ax" x="361.7" y="434.0" textLength="67.3" lengthAdjust="spacingAndGlyphs">Position (mm)</text>
<text class="ax" x="604.9" y="434.7" textLength="67.5" lengthAdjust="spacingAndGlyphs">Position (mm)</text>
<text class="ax" transform="translate(7.9 374.6) rotate(-90)" textLength="99.8" lengthAdjust="spacingAndGlyphs">Normalized intensity</text>
<text class="ax" transform="translate(782.5 381) rotate(-90)" textLength="103" lengthAdjust="spacingAndGlyphs">Normalized internsity</text>
</svg></body></html>
